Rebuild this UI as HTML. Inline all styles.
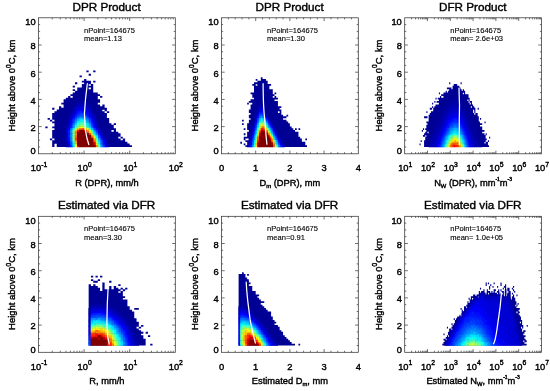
<!DOCTYPE html>
<html lang="en"><head><meta charset="utf-8"><title>DPR / DFR retrieval histograms</title>
<style>html,body{margin:0;padding:0;background:#fff}body{width:550px;height:391px;overflow:hidden}svg{display:block}text{font-family:'Liberation Sans', Arial, Helvetica, sans-serif}</style></head>
<body>
<svg width="550" height="391" viewBox="0 0 550 391" font-family="'Liberation Sans', Arial, Helvetica, sans-serif" fill="#000" stroke="#000" stroke-width="0.4" paint-order="stroke">
<defs><filter id="soft" x="-5%" y="-5%" width="110%" height="110%"><feGaussianBlur stdDeviation="0.4"/></filter></defs>
<g><g fill="none" stroke-width="2.10" filter="url(#soft)"><path stroke="#000094" stroke-width="1.80" d="M52.18 146.15h2.28M56.74 146.15h75.24M52.18 144.45h2.28M56.74 144.45h72.96M52.18 142.75h75.24M52.18 141.05h72.96M49.90 139.35h2.28M54.46 139.35h66.12M122.86 139.35h2.28M52.18 137.65h66.12M120.58 137.65h2.28M52.18 135.95h68.40M52.18 134.25h68.40M52.18 132.55h66.12M52.18 130.85h59.28M113.74 130.85h2.28M54.46 129.15h61.56M45.34 127.45h2.28M52.18 127.45h61.56M54.46 125.75h59.28M54.46 124.05h57.00M113.74 124.05h2.28M52.18 122.35h57.00M49.90 120.65h2.28M54.46 120.65h54.72M47.62 118.95h2.28M52.18 118.95h57.00M52.18 117.25h54.72M52.18 115.55h54.72M52.18 113.85h54.72M54.46 112.15h50.16M106.90 112.15h2.28M56.74 110.45h45.60M104.62 110.45h2.28M52.18 108.75h2.28M59.02 108.75h47.88M59.02 107.05h2.28M63.58 107.05h41.04M63.58 105.35h36.48M102.34 105.35h2.28M61.30 103.65h36.48M63.58 101.95h36.48M63.58 100.25h36.48M65.86 98.55h31.92M68.14 96.85h2.28M72.70 96.85h25.08M100.06 96.85h2.28M70.42 95.15h29.64M72.70 93.45h25.08M74.98 91.75h18.24M72.70 90.05h2.28M77.26 90.05h15.96M77.26 88.35h11.40M90.94 88.35h2.28M72.70 86.65h2.28M81.82 86.65h11.40M81.82 84.95h6.84M90.94 84.95h2.28M74.98 83.25h2.28M84.10 83.25h6.84M81.82 81.55h9.12M93.22 81.55h2.28M84.10 79.85h2.28M86.38 71.35h2.28M93.22 71.35h2.28M79.54 76.45h2.28M88.66 74.75h2.28"/><path stroke="#00009e" d="M65.66 146.15h2.68M65.66 144.45h2.68M106.70 142.75h2.68M104.42 137.65h2.68M63.38 130.85h2.68M99.86 129.15h2.68M65.66 125.75h2.68M97.58 125.75h2.68M97.58 124.05h2.68M95.30 118.95h2.68M67.94 117.25h2.68M93.02 113.85h2.68M70.22 112.15h2.68M90.74 110.45h2.68M90.74 108.75h2.68M72.50 107.05h2.68M88.46 105.35h2.68M74.78 103.65h2.68M86.18 103.65h2.68M77.06 101.95h2.68M83.90 101.95h2.68M79.34 100.25h4.96"/><path stroke="#0000a9" d="M106.70 146.15h2.68M106.70 144.45h2.68M65.66 142.75h2.68M104.42 139.35h2.68M102.14 134.25h2.68M99.86 130.85h2.68M65.66 127.45h2.68M97.58 127.45h2.68M95.30 120.65h2.68M67.94 118.95h2.68M93.02 115.55h2.68M70.22 113.85h2.68M90.74 112.15h2.68M72.50 108.75h2.68M88.46 107.05h2.68M74.78 105.35h2.68M86.18 105.35h2.68M77.06 103.65h2.68M83.90 103.65h2.68M79.34 101.95h4.96"/><path stroke="#0000b3" d="M65.66 141.05h2.68M104.42 141.05h2.68M102.14 135.95h2.68M65.66 129.15h2.68M67.94 122.35h2.68M95.30 122.35h2.68M67.94 120.65h2.68M93.02 117.25h2.68M70.22 115.55h2.68M90.74 113.85h2.68M72.50 110.45h2.68M88.46 108.75h2.68M74.78 107.05h2.68M83.90 105.35h2.68M79.34 103.65h4.96"/><path stroke="#0000be" d="M104.42 142.75h2.68M65.66 139.35h2.68M65.66 137.65h2.68M102.14 137.65h2.68M65.66 135.95h2.68M65.66 134.25h2.68M99.86 132.55h2.68M97.58 129.15h2.68M67.94 124.05h2.68M95.30 124.05h2.68M93.02 118.95h2.68M70.22 117.25h2.68M72.50 112.15h2.68M88.46 110.45h2.68M86.18 107.05h2.68M77.06 105.35h7.24"/><path stroke="#0000c8" d="M65.66 132.55h2.68M65.66 130.85h2.68M95.30 125.75h2.68M90.74 115.55h2.68M72.50 113.85h2.68M88.46 112.15h2.68M74.78 108.75h2.68M86.18 108.75h2.68M77.06 107.05h2.68M83.90 107.05h2.68"/><path stroke="#0000d2" d="M67.94 146.15h2.68M104.42 144.45h2.68M102.14 139.35h2.68M99.86 134.25h2.68M95.30 127.45h2.68M67.94 125.75h2.68M93.02 122.35h2.68M93.02 120.65h2.68M70.22 118.95h2.68M74.78 110.45h2.68M86.18 110.45h2.68M79.34 107.05h4.96"/><path stroke="#0000dd" d="M104.42 146.15h2.68M67.94 144.45h2.68M97.58 130.85h2.68M67.94 127.45h2.68M90.74 117.25h2.68M72.50 115.55h2.68M88.46 113.85h2.68M77.06 108.75h2.68M83.90 108.75h2.68"/><path stroke="#0000e7" d="M102.14 141.05h2.68M99.86 135.95h2.68M97.58 132.55h2.68M93.02 124.05h2.68M70.22 120.65h2.68M90.74 118.95h2.68M74.78 112.15h2.68M86.18 112.15h2.68M83.90 110.45h2.68M79.34 108.75h4.96"/><path stroke="#0000f2" d="M67.94 142.75h2.68M95.30 129.15h2.68M70.22 122.35h2.68M72.50 117.25h2.68M88.46 115.55h2.68M74.78 113.85h2.68M86.18 113.85h2.68M77.06 110.45h2.68M81.62 110.45h2.68"/><path stroke="#0000fc" d="M67.94 141.05h2.68M67.94 129.15h2.68M93.02 125.75h2.68M90.74 120.65h2.68M83.90 112.15h2.68M79.34 110.45h2.68"/><path stroke="#0007ff" d="M102.14 142.75h2.68M67.94 139.35h2.68M99.86 137.65h2.68M93.02 127.45h2.68M70.22 124.05h2.68M88.46 117.25h2.68M77.06 112.15h2.68M81.62 112.15h2.68"/><path stroke="#0012ff" d="M102.14 144.45h2.68M67.94 137.65h2.68M67.94 135.95h2.68M67.94 134.25h2.68M97.58 134.25h2.68M67.94 130.85h2.68M90.74 122.35h2.68M72.50 118.95h2.68M74.78 115.55h2.68M86.18 115.55h2.68"/><path stroke="#001cff" d="M67.94 132.55h2.68M70.22 125.75h2.68M77.06 113.85h2.68M79.34 112.15h2.68"/><path stroke="#0027ff" d="M70.22 146.15h2.68M99.86 139.35h2.68M95.30 130.85h2.68M70.22 127.45h2.68M90.74 124.05h2.68M88.46 118.95h2.68M83.90 113.85h2.68"/><path stroke="#0031ff" d="M102.14 146.15h2.68M72.50 120.65h2.68M74.78 117.25h2.68M83.90 115.55h2.68M81.62 113.85h2.68"/><path stroke="#003bff" d="M97.58 135.95h2.68M93.02 129.15h2.68M90.74 125.75h2.68M72.50 122.35h2.68M88.46 120.65h2.68M86.18 117.25h2.68M77.06 115.55h2.68M79.34 113.85h2.68"/><path stroke="#0046ff" d="M95.30 132.55h2.68"/><path stroke="#0050ff" d="M70.22 144.45h2.68M99.86 141.05h2.68M74.78 118.95h2.68M79.34 115.55h4.96"/><path stroke="#005bff" d="M70.22 142.75h2.68M99.86 142.75h2.68M97.58 137.65h2.68M90.74 127.45h2.68M72.50 124.05h2.68M88.46 122.35h2.68M86.18 118.95h2.68"/><path stroke="#0065ff" d="M77.06 117.25h2.68"/><path stroke="#0070ff" d="M70.22 141.05h2.68M70.22 129.15h2.68M83.90 117.25h2.68"/><path stroke="#007aff" d="M99.86 144.45h2.68M93.02 130.85h2.68M74.78 120.65h2.68M81.62 117.25h2.68"/><path stroke="#0084ff" d="M70.22 137.65h2.68M88.46 124.05h2.68M83.90 118.95h2.68M79.34 117.25h2.68"/><path stroke="#008fff" d="M70.22 139.35h2.68M70.22 134.25h2.68M95.30 134.25h2.68M72.50 127.45h2.68M72.50 125.75h2.68M86.18 120.65h2.68"/><path stroke="#0099ff" d="M99.86 146.15h2.68M70.22 135.95h2.68M70.22 132.55h2.68M70.22 130.85h2.68M77.06 118.95h2.68"/><path stroke="#00a4ff" d="M88.46 125.75h2.68M74.78 122.35h2.68M86.18 122.35h2.68"/><path stroke="#00aeff" d="M97.58 139.35h2.68M90.74 129.15h2.68M81.62 118.95h2.68"/><path stroke="#00c3ff" d="M74.78 124.05h2.68M77.06 120.65h2.68M83.90 120.65h2.68M79.34 118.95h2.68"/><path stroke="#00cdff" d="M97.58 141.05h2.68M95.30 135.95h2.68M93.02 132.55h2.68"/><path stroke="#00d8ff" d="M72.50 146.15h2.68M86.18 124.05h2.68"/><path stroke="#00e2ff" d="M88.46 127.45h2.68"/><path stroke="#00edff" d="M72.50 129.15h2.68M83.90 122.35h2.68M79.34 120.65h2.68"/><path stroke="#00f7ff" d="M72.50 144.45h2.68M86.18 125.75h2.68M81.62 120.65h2.68"/><path stroke="#02fffd" d="M97.58 142.75h2.68M95.30 137.65h2.68M77.06 122.35h2.68"/><path stroke="#17ffe8" d="M72.50 142.75h2.68M93.02 134.25h2.68M74.78 125.75h2.68"/><path stroke="#22ffdd" d="M90.74 130.85h2.68M88.46 129.15h2.68M83.90 124.05h2.68"/><path stroke="#2cffd3" d="M79.34 122.35h4.96"/><path stroke="#36ffc9" d="M72.50 141.05h2.68M86.18 127.45h2.68M77.06 124.05h2.68"/><path stroke="#41ffbe" d="M97.58 144.45h2.68M72.50 135.95h2.68M79.34 124.05h2.68"/><path stroke="#4bffb4" d="M74.78 127.45h2.68M83.90 125.75h2.68"/><path stroke="#60ff9f" d="M72.50 130.85h2.68M77.06 125.75h2.68M81.62 124.05h2.68"/><path stroke="#6aff95" d="M97.58 146.15h2.68M93.02 135.95h2.68M72.50 132.55h2.68"/><path stroke="#75ff8a" d="M72.50 139.35h2.68M95.30 139.35h2.68"/><path stroke="#7fff80" d="M95.30 141.05h2.68M72.50 134.25h2.68M90.74 132.55h2.68"/><path stroke="#8aff75" d="M72.50 137.65h2.68M79.34 125.75h2.68"/><path stroke="#94ff6b" d="M81.62 125.75h2.68"/><path stroke="#9fff60" d="M77.06 127.45h2.68M83.90 127.45h2.68"/><path stroke="#b3ff4c" d="M74.78 129.15h2.68"/><path stroke="#beff41" d="M95.30 142.75h2.68M90.74 134.25h2.68"/><path stroke="#d3ff2c" d="M88.46 130.85h2.68"/><path stroke="#ddff22" d="M86.18 129.15h2.68M81.62 127.45h2.68"/><path stroke="#f2ff0d" d="M93.02 137.65h2.68M79.34 127.45h2.68"/><path stroke="#fcff03" d="M74.78 146.15h2.68"/><path stroke="#ffed00" d="M95.30 144.45h2.68M88.46 132.55h2.68"/><path stroke="#ffe300" d="M74.78 144.45h2.68"/><path stroke="#ffce00" d="M83.90 129.15h2.68"/><path stroke="#ffc300" d="M77.06 129.15h2.68"/><path stroke="#ffb900" d="M74.78 130.85h2.68"/><path stroke="#ffae00" d="M74.78 142.75h2.68"/><path stroke="#ffa400" d="M93.02 139.35h2.68M90.74 135.95h2.68M74.78 134.25h2.68M86.18 130.85h2.68"/><path stroke="#ff8f00" d="M74.78 141.05h2.68"/><path stroke="#ff8500" d="M95.30 146.15h2.68"/><path stroke="#ff7a00" d="M93.02 141.05h2.68M79.34 129.15h2.68"/><path stroke="#ff7000" d="M74.78 132.55h2.68"/><path stroke="#ff6600" d="M74.78 135.95h2.68"/><path stroke="#ff5b00" d="M74.78 137.65h2.68"/><path stroke="#ff5100" d="M81.62 129.15h2.68"/><path stroke="#ff4600" d="M88.46 134.25h2.68M86.18 132.55h2.68"/><path stroke="#ff3c00" d="M74.78 139.35h2.68"/><path stroke="#ff3200" d="M90.74 137.65h2.68"/><path stroke="#ff1200" d="M83.90 130.85h2.68"/><path stroke="#ff0800" d="M93.02 142.75h2.68M77.06 130.85h2.68"/><path stroke="#dd0000" d="M93.02 144.45h2.68"/><path stroke="#c80000" d="M77.06 146.15h2.68"/><path stroke="#9f0000" d="M77.06 132.55h2.68"/><path stroke="#8a0000" d="M88.46 135.95h2.68"/><path stroke="#800000" d="M79.34 146.15h16.36M77.06 144.45h16.36M77.06 142.75h16.36M77.06 141.05h16.36M77.06 139.35h16.36M77.06 137.65h14.08M77.06 135.95h11.80M77.06 134.25h11.80M79.34 132.55h7.24M79.34 130.85h4.96"/></g><path d="M88.8 144.5 L87.0 138.5 L85.2 128.8 L84.4 113.5 L85.6 98.0 L86.6 90.0 L87.3 83.7" fill="none" stroke="#fff" stroke-width="1.25" stroke-linejoin="round" stroke-linecap="round"/><path d="M38.50 147.00h1.60M175.30 147.00h-1.60M38.50 140.20h1.60M175.30 140.20h-1.60M38.50 133.40h1.60M175.30 133.40h-1.60M38.50 126.60h3.20M175.30 126.60h-3.20M38.50 119.80h1.60M175.30 119.80h-1.60M38.50 113.00h1.60M175.30 113.00h-1.60M38.50 106.20h1.60M175.30 106.20h-1.60M38.50 99.40h3.20M175.30 99.40h-3.20M38.50 92.60h1.60M175.30 92.60h-1.60M38.50 85.80h1.60M175.30 85.80h-1.60M38.50 79.00h1.60M175.30 79.00h-1.60M38.50 72.20h3.20M175.30 72.20h-3.20M38.50 65.40h1.60M175.30 65.40h-1.60M38.50 58.60h1.60M175.30 58.60h-1.60M38.50 51.80h1.60M175.30 51.80h-1.60M38.50 45.00h3.20M175.30 45.00h-3.20M38.50 38.20h1.60M175.30 38.20h-1.60M38.50 31.40h1.60M175.30 31.40h-1.60M38.50 24.60h1.60M175.30 24.60h-1.60M52.23 153.80v-1.60M52.23 17.80v1.60M60.26 153.80v-1.60M60.26 17.80v1.60M65.95 153.80v-1.60M65.95 17.80v1.60M70.37 153.80v-1.60M70.37 17.80v1.60M73.98 153.80v-1.60M73.98 17.80v1.60M77.04 153.80v-1.60M77.04 17.80v1.60M79.68 153.80v-1.60M79.68 17.80v1.60M82.01 153.80v-1.60M82.01 17.80v1.60M84.10 153.80v-3.20M84.10 17.80v3.20M97.83 153.80v-1.60M97.83 17.80v1.60M105.86 153.80v-1.60M105.86 17.80v1.60M111.55 153.80v-1.60M111.55 17.80v1.60M115.97 153.80v-1.60M115.97 17.80v1.60M119.58 153.80v-1.60M119.58 17.80v1.60M122.64 153.80v-1.60M122.64 17.80v1.60M125.28 153.80v-1.60M125.28 17.80v1.60M127.61 153.80v-1.60M127.61 17.80v1.60M129.70 153.80v-3.20M129.70 17.80v3.20M143.43 153.80v-1.60M143.43 17.80v1.60M151.46 153.80v-1.60M151.46 17.80v1.60M157.15 153.80v-1.60M157.15 17.80v1.60M161.57 153.80v-1.60M161.57 17.80v1.60M165.18 153.80v-1.60M165.18 17.80v1.60M168.24 153.80v-1.60M168.24 17.80v1.60M170.88 153.80v-1.60M170.88 17.80v1.60M173.21 153.80v-1.60M173.21 17.80v1.60" stroke="#333" stroke-width="0.7" fill="none"/><rect x="38.50" y="17.80" width="136.80" height="136.00" fill="none" stroke="#333" stroke-width="0.75"/><text x="106.60" y="10.90" font-size="11.7" text-anchor="middle">DPR Product</text><text x="35.60" y="154.30" font-size="9.3" text-anchor="end">0</text><text x="35.60" y="130.90" font-size="9.3" text-anchor="end">2</text><text x="35.60" y="103.70" font-size="9.3" text-anchor="end">4</text><text x="35.60" y="76.50" font-size="9.3" text-anchor="end">6</text><text x="35.60" y="49.30" font-size="9.3" text-anchor="end">8</text><text x="35.60" y="25.00" font-size="9.3" text-anchor="end">10</text><text x="39.00" y="171.10" font-size="9.3" text-anchor="middle">10<tspan font-size="6.8" dy="-4.5">-1</tspan></text><text x="84.60" y="171.10" font-size="9.3" text-anchor="middle">10<tspan font-size="6.8" dy="-4.5">0</tspan></text><text x="130.20" y="171.10" font-size="9.3" text-anchor="middle">10<tspan font-size="6.8" dy="-4.5">1</tspan></text><text x="175.80" y="171.10" font-size="9.3" text-anchor="middle">10<tspan font-size="6.8" dy="-4.5">2</tspan></text><text x="106.90" y="185.70" text-anchor="middle" xml:space="preserve"><tspan font-size="9.3" dy="0.0">R (DPR), mm/h</tspan></text><text transform="translate(15.30 85.50) rotate(-90)" font-size="9.45" text-anchor="middle">Height above 0<tspan font-size="6.5" dy="-4.2">0</tspan><tspan dy="4.2">C, km</tspan></text><text x="84.00" y="32.70" font-size="7.55" stroke-width="0.12">nPoint=164675</text><text x="84.00" y="41.00" font-size="7.55" stroke-width="0.12" xml:space="preserve">mean=1.13</text></g>
<g><g fill="none" stroke-width="2.10" filter="url(#soft)"><path stroke="#000094" stroke-width="1.80" d="M245.44 146.15h61.56M243.73 144.45h1.71M247.15 144.45h58.14M240.31 142.75h1.71M247.15 142.75h58.14M245.44 141.05h56.43M243.73 139.35h1.71M248.86 139.35h53.01M305.29 139.35h1.71M243.73 137.65h56.43M247.15 135.95h51.30M243.73 134.25h1.71M247.15 134.25h51.30M247.15 132.55h51.30M248.86 130.85h46.17M243.73 129.15h1.71M247.15 129.15h46.17M295.03 129.15h1.71M298.45 129.15h1.71M247.15 127.45h44.46M247.15 125.75h42.75M242.02 124.05h1.71M247.15 124.05h42.75M248.86 122.35h39.33M242.02 120.65h1.71M248.86 120.65h37.62M250.57 118.95h32.49M248.86 117.25h37.62M248.86 115.55h34.20M286.48 115.55h1.71M250.57 113.85h30.78M248.86 112.15h29.07M279.64 112.15h1.71M248.86 110.45h32.49M250.57 108.75h29.07M250.57 107.05h30.78M250.57 105.35h27.36M247.15 103.65h1.71M252.28 103.65h25.65M248.86 101.95h29.07M250.57 100.25h23.94M253.99 98.55h23.94M252.28 96.85h20.52M274.51 96.85h1.71M252.28 95.15h22.23M250.57 93.45h22.23M274.51 93.45h1.71M253.99 91.75h18.81M253.99 90.05h18.81M253.99 88.35h15.39M253.99 86.65h15.39M252.28 84.95h3.42M257.41 84.95h13.68M253.99 83.25h13.68M257.41 81.55h10.26M255.70 79.85h1.71M260.83 79.85h5.13M260.83 78.15h1.71"/><path stroke="#00009e" d="M246.95 146.15h2.11M282.86 144.45h2.11M281.15 141.05h2.11M248.66 139.35h2.11M279.44 137.65h2.11M250.37 132.55h2.11M276.02 132.55h2.11M274.31 129.15h2.11M252.08 125.75h2.11M269.18 120.65h2.11M267.47 117.25h2.11M255.50 113.85h2.11M265.76 113.85h2.11M262.34 107.05h2.11M257.21 105.35h2.11M260.63 105.35h2.11M258.92 103.65h2.11"/><path stroke="#0000a9" d="M248.66 141.05h2.11M279.44 139.35h2.11M277.73 135.95h2.11M250.37 134.25h2.11M252.08 127.45h2.11M270.89 124.05h2.11M253.79 120.65h2.11M264.05 112.15h2.11M262.34 108.75h2.11M257.21 107.05h2.11M258.92 105.35h2.11"/><path stroke="#0000b3" d="M282.86 146.15h2.11M248.66 142.75h2.11M281.15 142.75h2.11M250.37 135.95h2.11M274.31 130.85h2.11M252.08 129.15h2.11M272.60 127.45h2.11M253.79 122.35h2.11M255.50 115.55h2.11M265.76 115.55h2.11M257.21 108.75h2.11M260.63 107.05h2.11"/><path stroke="#0000be" d="M248.66 144.45h2.11M281.15 144.45h2.11M279.44 141.05h2.11M277.73 137.65h2.11M276.02 134.25h2.11M269.18 122.35h2.11M267.47 118.95h2.11M255.50 117.25h2.11M257.21 110.45h2.11M262.34 110.45h2.11M258.92 107.05h2.11"/><path stroke="#0000c8" d="M248.66 146.15h2.11M250.37 137.65h2.11M252.08 130.85h2.11M272.60 129.15h2.11M270.89 125.75h2.11M253.79 124.05h2.11M264.05 113.85h2.11M257.21 112.15h2.11M260.63 108.75h2.11"/><path stroke="#0000d2" d="M277.73 139.35h2.11M276.02 135.95h2.11M252.08 132.55h2.11M274.31 132.55h2.11M253.79 125.75h2.11M255.50 118.95h2.11M265.76 117.25h2.11M258.92 108.75h2.11"/><path stroke="#0000dd" d="M281.15 146.15h2.11M279.44 142.75h2.11M250.37 141.05h2.11M250.37 139.35h2.11M267.47 120.65h2.11M257.21 113.85h2.11M262.34 112.15h2.11"/><path stroke="#0000e7" d="M250.37 142.75h2.11M252.08 134.25h2.11M269.18 124.05h2.11M255.50 120.65h2.11M264.05 115.55h2.11M258.92 110.45h3.82"/><path stroke="#0000f2" d="M272.60 130.85h2.11M253.79 127.45h2.11M270.89 127.45h2.11"/><path stroke="#0000fc" d="M250.37 144.45h2.11M279.44 144.45h2.11M277.73 141.05h2.11M276.02 137.65h2.11M274.31 134.25h2.11M253.79 129.15h2.11M255.50 122.35h2.11M265.76 118.95h2.11M257.21 115.55h2.11M258.92 112.15h3.82"/><path stroke="#0007ff" d="M252.08 135.95h2.11M262.34 113.85h2.11"/><path stroke="#0012ff" d="M250.37 146.15h2.11M252.08 137.65h2.11M269.18 125.75h2.11M267.47 122.35h2.11M257.21 117.25h2.11"/><path stroke="#001cff" d="M277.73 142.75h2.11M276.02 139.35h2.11M274.31 135.95h2.11M253.79 130.85h2.11M255.50 124.05h2.11M264.05 117.25h2.11M258.92 113.85h2.11"/><path stroke="#0027ff" d="M279.44 146.15h2.11M272.60 132.55h2.11M270.89 129.15h2.11M260.63 113.85h2.11"/><path stroke="#0031ff" d="M252.08 139.35h2.11M265.76 120.65h2.11M262.34 115.55h2.11"/><path stroke="#003bff" d="M252.08 141.05h2.11M253.79 132.55h2.11M267.47 124.05h2.11M257.21 118.95h2.11"/><path stroke="#0046ff" d="M255.50 125.75h2.11"/><path stroke="#0050ff" d="M277.73 144.45h2.11M272.60 134.25h2.11M270.89 130.85h2.11M257.21 120.65h2.11M258.92 115.55h2.11"/><path stroke="#005bff" d="M252.08 144.45h2.11M252.08 142.75h2.11M276.02 141.05h2.11M253.79 134.25h2.11M255.50 127.45h2.11M269.18 127.45h2.11M264.05 118.95h2.11M260.63 115.55h2.11"/><path stroke="#0065ff" d="M274.31 137.65h2.11M262.34 117.25h2.11"/><path stroke="#0070ff" d="M258.92 117.25h2.11"/><path stroke="#007aff" d="M277.73 146.15h2.11M253.79 135.95h2.11M255.50 129.15h2.11M257.21 122.35h2.11M265.76 122.35h2.11"/><path stroke="#0084ff" d="M267.47 125.75h2.11"/><path stroke="#008fff" d="M252.08 146.15h2.11M270.89 132.55h2.11"/><path stroke="#0099ff" d="M274.31 139.35h2.11M272.60 135.95h2.11M269.18 129.15h2.11M258.92 118.95h2.11M260.63 117.25h2.11"/><path stroke="#00a4ff" d="M253.79 137.65h2.11M257.21 124.05h2.11M264.05 120.65h2.11"/><path stroke="#00aeff" d="M276.02 142.75h2.11M253.79 139.35h2.11M255.50 130.85h2.11M262.34 118.95h2.11"/><path stroke="#00c3ff" d="M267.47 127.45h2.11M265.76 124.05h2.11"/><path stroke="#00cdff" d="M276.02 144.45h2.11M255.50 132.55h2.11M258.92 120.65h2.11"/><path stroke="#00d8ff" d="M262.34 120.65h2.11"/><path stroke="#00e2ff" d="M253.79 141.05h2.11M269.18 130.85h2.11M257.21 125.75h2.11"/><path stroke="#00edff" d="M272.60 137.65h2.11M270.89 134.25h2.11M264.05 122.35h2.11M260.63 118.95h2.11"/><path stroke="#02fffd" d="M253.79 142.75h2.11M274.31 141.05h2.11M255.50 134.25h2.11M257.21 127.45h2.11"/><path stroke="#0dfff2" d="M274.31 142.75h2.11M260.63 120.65h2.11"/><path stroke="#17ffe8" d="M258.92 122.35h2.11"/><path stroke="#22ffdd" d="M270.89 135.95h2.11"/><path stroke="#2cffd3" d="M276.02 146.15h2.11M253.79 144.45h2.11M255.50 135.95h2.11M265.76 125.75h2.11"/><path stroke="#36ffc9" d="M253.79 146.15h2.11M272.60 139.35h2.11"/><path stroke="#41ffbe" d="M269.18 132.55h2.11"/><path stroke="#4bffb4" d="M257.21 129.15h2.11M267.47 129.15h2.11"/><path stroke="#56ffa9" d="M262.34 122.35h2.11"/><path stroke="#60ff9f" d="M260.63 122.35h2.11"/><path stroke="#6aff95" d="M274.31 144.45h2.11M255.50 137.65h2.11M265.76 127.45h2.11M258.92 125.75h2.11M258.92 124.05h2.11M264.05 124.05h2.11"/><path stroke="#7fff80" d="M257.21 130.85h2.11"/><path stroke="#94ff6b" d="M255.50 139.35h2.11"/><path stroke="#9fff60" d="M255.50 141.05h2.11M267.47 130.85h2.11M262.34 124.05h2.11"/><path stroke="#b3ff4c" d="M274.31 146.15h2.11M264.05 125.75h2.11M260.63 124.05h2.11"/><path stroke="#beff41" d="M272.60 141.05h2.11M269.18 134.25h2.11M257.21 132.55h2.11"/><path stroke="#c8ff37" d="M258.92 127.45h2.11"/><path stroke="#d3ff2c" d="M255.50 142.75h2.11M270.89 137.65h2.11"/><path stroke="#e7ff18" d="M258.92 129.15h2.11"/><path stroke="#f2ff0d" d="M265.76 129.15h2.11"/><path stroke="#fff700" d="M257.21 134.25h2.11M267.47 132.55h2.11M260.63 125.75h2.11"/><path stroke="#ffe300" d="M255.50 146.15h2.11M269.18 135.95h2.11M262.34 125.75h2.11"/><path stroke="#ffd800" d="M272.60 142.75h2.11"/><path stroke="#ffc300" d="M255.50 144.45h2.11M257.21 135.95h2.11"/><path stroke="#ffb900" d="M260.63 127.45h2.11M264.05 127.45h2.11"/><path stroke="#ffa400" d="M270.89 139.35h2.11"/><path stroke="#ff9a00" d="M258.92 130.85h2.11"/><path stroke="#ff8f00" d="M270.89 141.05h2.11M265.76 130.85h2.11M264.05 129.15h2.11"/><path stroke="#ff7a00" d="M267.47 134.25h2.11"/><path stroke="#ff7000" d="M272.60 144.45h2.11M262.34 127.45h2.11"/><path stroke="#ff5b00" d="M257.21 139.35h2.11M257.21 137.65h2.11"/><path stroke="#ff5100" d="M272.60 146.15h2.11"/><path stroke="#ff3c00" d="M269.18 137.65h2.11M258.92 132.55h2.11"/><path stroke="#ff3200" d="M262.34 129.15h2.11"/><path stroke="#ff2700" d="M257.21 141.05h2.11"/><path stroke="#ff1d00" d="M260.63 129.15h2.11"/><path stroke="#ff1200" d="M264.05 130.85h2.11"/><path stroke="#ff0800" d="M265.76 132.55h2.11"/><path stroke="#dd0000" d="M270.89 142.75h2.11M269.18 139.35h2.11"/><path stroke="#d30000" d="M257.21 142.75h2.11M262.34 130.85h2.11"/><path stroke="#c80000" d="M267.47 135.95h2.11M258.92 134.25h2.11M260.63 130.85h2.11"/><path stroke="#b40000" d="M257.21 144.45h2.11M258.92 135.95h2.11"/><path stroke="#a90000" d="M257.21 146.15h2.11M270.89 144.45h2.11"/><path stroke="#940000" d="M260.63 132.55h2.11"/><path stroke="#8a0000" d="M269.18 141.05h2.11M267.47 137.65h2.11"/><path stroke="#800000" d="M258.92 146.15h14.08M258.92 144.45h12.37M258.92 142.75h12.37M258.92 141.05h10.66M258.92 139.35h10.66M258.92 137.65h8.95M260.63 135.95h7.24M260.63 134.25h7.24M262.34 132.55h3.82"/></g><path d="M266.9 144.2 L266.0 135.0 L265.0 123.0 L264.0 112.0 L263.5 103.8 L263.2 92.0 L263.1 83.7" fill="none" stroke="#fff" stroke-width="1.25" stroke-linejoin="round" stroke-linecap="round"/><path d="M221.50 147.00h1.60M358.30 147.00h-1.60M221.50 140.20h1.60M358.30 140.20h-1.60M221.50 133.40h1.60M358.30 133.40h-1.60M221.50 126.60h3.20M358.30 126.60h-3.20M221.50 119.80h1.60M358.30 119.80h-1.60M221.50 113.00h1.60M358.30 113.00h-1.60M221.50 106.20h1.60M358.30 106.20h-1.60M221.50 99.40h3.20M358.30 99.40h-3.20M221.50 92.60h1.60M358.30 92.60h-1.60M221.50 85.80h1.60M358.30 85.80h-1.60M221.50 79.00h1.60M358.30 79.00h-1.60M221.50 72.20h3.20M358.30 72.20h-3.20M221.50 65.40h1.60M358.30 65.40h-1.60M221.50 58.60h1.60M358.30 58.60h-1.60M221.50 51.80h1.60M358.30 51.80h-1.60M221.50 45.00h3.20M358.30 45.00h-3.20M221.50 38.20h1.60M358.30 38.20h-1.60M221.50 31.40h1.60M358.30 31.40h-1.60M221.50 24.60h1.60M358.30 24.60h-1.60M228.34 153.80v-1.60M228.34 17.80v1.60M235.18 153.80v-1.60M235.18 17.80v1.60M242.02 153.80v-1.60M242.02 17.80v1.60M248.86 153.80v-1.60M248.86 17.80v1.60M255.70 153.80v-3.20M255.70 17.80v3.20M262.54 153.80v-1.60M262.54 17.80v1.60M269.38 153.80v-1.60M269.38 17.80v1.60M276.22 153.80v-1.60M276.22 17.80v1.60M283.06 153.80v-1.60M283.06 17.80v1.60M289.90 153.80v-3.20M289.90 17.80v3.20M296.74 153.80v-1.60M296.74 17.80v1.60M303.58 153.80v-1.60M303.58 17.80v1.60M310.42 153.80v-1.60M310.42 17.80v1.60M317.26 153.80v-1.60M317.26 17.80v1.60M324.10 153.80v-3.20M324.10 17.80v3.20M330.94 153.80v-1.60M330.94 17.80v1.60M337.78 153.80v-1.60M337.78 17.80v1.60M344.62 153.80v-1.60M344.62 17.80v1.60M351.46 153.80v-1.60M351.46 17.80v1.60" stroke="#333" stroke-width="0.7" fill="none"/><rect x="221.50" y="17.80" width="136.80" height="136.00" fill="none" stroke="#333" stroke-width="0.75"/><text x="289.60" y="10.90" font-size="11.7" text-anchor="middle">DPR Product</text><text x="218.60" y="154.30" font-size="9.3" text-anchor="end">0</text><text x="218.60" y="130.90" font-size="9.3" text-anchor="end">2</text><text x="218.60" y="103.70" font-size="9.3" text-anchor="end">4</text><text x="218.60" y="76.50" font-size="9.3" text-anchor="end">6</text><text x="218.60" y="49.30" font-size="9.3" text-anchor="end">8</text><text x="218.60" y="25.00" font-size="9.3" text-anchor="end">10</text><text x="221.50" y="171.10" font-size="9.3" text-anchor="middle">0</text><text x="255.70" y="171.10" font-size="9.3" text-anchor="middle">1</text><text x="289.90" y="171.10" font-size="9.3" text-anchor="middle">2</text><text x="324.10" y="171.10" font-size="9.3" text-anchor="middle">3</text><text x="358.30" y="171.10" font-size="9.3" text-anchor="middle">4</text><text x="289.90" y="185.70" text-anchor="middle" xml:space="preserve"><tspan font-size="9.3" dy="0.0">D</tspan><tspan font-size="5.8" dy="2.0">m</tspan><tspan font-size="9.3" dy="-2.0"> (DPR), mm</tspan></text><text transform="translate(198.30 85.50) rotate(-90)" font-size="9.45" text-anchor="middle">Height above 0<tspan font-size="6.5" dy="-4.2">0</tspan><tspan dy="4.2">C, km</tspan></text><text x="267.00" y="32.70" font-size="7.55" stroke-width="0.12">nPoint=164675</text><text x="267.00" y="41.00" font-size="7.55" stroke-width="0.12" xml:space="preserve">mean=1.30</text></g>
<g><g fill="none" stroke-width="2.10" filter="url(#soft)"><path stroke="#000094" stroke-width="1.80" d="M424.08 146.15h64.98M419.52 144.45h1.14M424.08 144.45h63.84M424.08 142.75h60.42M485.64 142.75h2.28M420.66 141.05h1.14M424.08 141.05h61.56M487.92 141.05h1.14M425.22 139.35h61.56M425.22 137.65h60.42M489.06 137.65h1.14M422.94 135.95h2.28M426.36 135.95h59.28M424.08 134.25h60.42M485.64 134.25h1.14M425.22 132.55h2.28M428.64 132.55h53.58M421.80 130.85h1.14M426.36 130.85h58.14M422.94 129.15h1.14M425.22 129.15h57.00M426.36 127.45h55.86M426.36 125.75h53.58M427.50 124.05h54.72M426.36 122.35h53.58M484.50 122.35h1.14M428.64 120.65h50.16M428.64 118.95h50.16M479.94 118.95h1.14M424.08 117.25h3.42M428.64 117.25h50.16M428.64 115.55h49.02M429.78 113.85h44.46M475.38 113.85h2.28M426.36 112.15h1.14M430.92 112.15h42.18M474.24 112.15h1.14M433.20 110.45h39.90M474.24 110.45h1.14M429.78 108.75h2.28M433.20 108.75h42.18M477.66 108.75h1.14M432.06 107.05h1.14M434.34 107.05h36.48M471.96 107.05h2.28M435.48 105.35h37.62M432.06 103.65h1.14M438.90 103.65h30.78M470.82 103.65h1.14M434.34 101.95h1.14M436.62 101.95h31.92M469.68 101.95h2.28M438.90 100.25h28.50M468.54 100.25h1.14M435.48 98.55h1.14M437.76 98.55h31.92M440.04 96.85h1.14M443.46 96.85h25.08M441.18 95.15h27.36M438.90 93.45h1.14M443.46 93.45h19.38M463.98 93.45h1.14M445.74 91.75h1.14M448.02 91.75h17.10M449.16 90.05h12.54M462.84 90.05h1.14M446.88 88.35h4.56M452.58 88.35h7.98M452.58 86.65h6.84M453.72 84.95h3.42M449.16 83.25h1.14M460.56 83.25h1.14"/><path stroke="#00009e" d="M428.44 146.15h1.54M479.74 146.15h2.68M428.44 144.45h1.54M478.60 144.45h2.68M429.58 142.75h1.54M477.46 142.75h2.68M429.58 141.05h1.54M476.32 141.05h3.82M429.58 139.35h2.68M475.18 139.35h3.82M430.72 137.65h1.54M475.18 137.65h2.68M430.72 135.95h2.68M474.04 135.95h3.82M431.86 134.25h2.68M474.04 134.25h2.68M431.86 132.55h3.82M472.90 132.55h2.68M433.00 130.85h3.82M471.76 130.85h3.82M433.00 129.15h3.82M470.62 129.15h3.82M434.14 127.45h3.82M470.62 127.45h2.68M435.28 125.75h2.68M469.48 125.75h3.82M436.42 124.05h2.68M469.48 124.05h2.68M436.42 122.35h3.82M468.34 122.35h2.68M437.56 120.65h3.82M468.34 120.65h2.68M438.70 118.95h2.68M467.20 118.95h2.68M438.70 117.25h3.82M466.06 117.25h2.68M439.84 115.55h2.68M466.06 115.55h2.68M440.98 113.85h2.68M464.92 113.85h2.68M442.12 112.15h2.68M464.92 112.15h2.68M442.12 110.45h3.82M463.78 110.45h2.68M443.26 108.75h3.82M462.64 108.75h2.68M444.40 107.05h3.82M461.50 107.05h3.82M445.54 105.35h3.82M460.36 105.35h3.82M446.68 103.65h4.96M458.08 103.65h4.96M447.82 101.95h14.08M450.10 100.25h10.66M451.24 98.55h7.24M454.66 96.85h1.54"/><path stroke="#0000a9" d="M429.58 146.15h1.54M476.32 146.15h3.82M429.58 144.45h2.68M476.32 144.45h2.68M430.72 142.75h1.54M475.18 142.75h2.68M430.72 141.05h2.68M474.04 141.05h2.68M431.86 139.35h1.54M474.04 139.35h1.54M431.86 137.65h2.68M472.90 137.65h2.68M433.00 135.95h3.82M471.76 135.95h2.68M434.14 134.25h2.68M471.76 134.25h2.68M435.28 132.55h2.68M470.62 132.55h2.68M436.42 130.85h1.54M470.62 130.85h1.54M436.42 129.15h2.68M469.48 129.15h1.54M437.56 127.45h1.54M469.48 127.45h1.54M437.56 125.75h2.68M468.34 125.75h1.54M438.70 124.05h2.68M468.34 124.05h1.54M439.84 122.35h1.54M467.20 122.35h1.54M440.98 120.65h1.54M466.06 120.65h2.68M440.98 118.95h2.68M466.06 118.95h1.54M442.12 117.25h2.68M464.92 117.25h1.54M442.12 115.55h2.68M463.78 115.55h2.68M443.26 113.85h2.68M463.78 113.85h1.54M444.40 112.15h2.68M462.64 112.15h2.68M445.54 110.45h2.68M461.50 110.45h2.68M446.68 108.75h2.68M460.36 108.75h2.68M447.82 107.05h2.68M459.22 107.05h2.68M448.96 105.35h4.96M455.80 105.35h4.96M451.24 103.65h7.24"/><path stroke="#0000b3" d="M430.72 146.15h1.54M474.04 146.15h2.68M431.86 144.45h1.54M474.04 144.45h2.68M431.86 142.75h1.54M474.04 142.75h1.54M433.00 141.05h1.54M472.90 141.05h1.54M433.00 139.35h2.68M471.76 139.35h2.68M434.14 137.65h1.54M471.76 137.65h1.54M470.62 135.95h1.54M436.42 134.25h1.54M470.62 134.25h1.54M437.56 132.55h1.54M469.48 132.55h1.54M437.56 130.85h1.54M469.48 130.85h1.54M438.70 129.15h1.54M468.34 129.15h1.54M438.70 127.45h2.68M467.20 127.45h2.68M439.84 125.75h2.68M467.20 125.75h1.54M440.98 124.05h1.54M466.06 124.05h2.68M440.98 122.35h2.68M466.06 122.35h1.54M442.12 120.65h1.54M464.92 120.65h1.54M443.26 118.95h1.54M463.78 118.95h2.68M444.40 117.25h1.54M463.78 117.25h1.54M444.40 115.55h2.68M462.64 115.55h1.54M445.54 113.85h1.54M461.50 113.85h2.68M446.68 112.15h2.68M461.50 112.15h1.54M447.82 110.45h1.54M459.22 110.45h2.68M448.96 108.75h3.82M458.08 108.75h2.68M450.10 107.05h9.52M453.52 105.35h2.68"/><path stroke="#0000be" d="M431.86 146.15h2.68M472.90 146.15h1.54M433.00 144.45h2.68M472.90 144.45h1.54M433.00 142.75h2.68M472.90 142.75h1.54M434.14 141.05h1.54M471.76 141.05h1.54M435.28 139.35h1.54M435.28 137.65h2.68M470.62 137.65h1.54M436.42 135.95h1.54M437.56 134.25h1.54M469.48 134.25h1.54M438.70 132.55h1.54M468.34 132.55h1.54M438.70 130.85h1.54M468.34 130.85h1.54M439.84 129.15h1.54M467.20 129.15h1.54M466.06 125.75h1.54M442.12 124.05h1.54M443.26 122.35h1.54M464.92 122.35h1.54M443.26 120.65h1.54M463.78 120.65h1.54M444.40 118.95h1.54M445.54 117.25h1.54M462.64 117.25h1.54M446.68 115.55h1.54M461.50 115.55h1.54M446.68 113.85h3.82M460.36 113.85h1.54M448.96 112.15h1.54M459.22 112.15h2.68M448.96 110.45h3.82M458.08 110.45h1.54M452.38 108.75h6.10"/><path stroke="#0000c8" d="M434.14 146.15h1.54M471.76 146.15h1.54M471.76 144.45h1.54M435.28 142.75h1.54M471.76 142.75h1.54M435.28 141.05h1.54M470.62 141.05h1.54M436.42 139.35h1.54M470.62 139.35h1.54M437.56 137.65h1.54M469.48 137.65h1.54M437.56 135.95h1.54M469.48 135.95h1.54M438.70 134.25h1.54M468.34 134.25h1.54M439.84 132.55h1.54M439.84 130.85h1.54M467.20 130.85h1.54M440.98 129.15h1.54M440.98 127.45h1.54M466.06 127.45h1.54M442.12 125.75h1.54M443.26 124.05h1.54M464.92 124.05h1.54M463.78 122.35h1.54M444.40 120.65h1.54M462.64 120.65h1.54M445.54 118.95h1.54M462.64 118.95h1.54M446.68 117.25h1.54M461.50 117.25h1.54M447.82 115.55h1.54M460.36 115.55h1.54M459.22 113.85h1.54M450.10 112.15h2.68M455.80 112.15h3.82M452.38 110.45h6.10"/><path stroke="#0000d2" d="M435.28 144.45h1.54M470.62 144.45h1.54M436.42 142.75h1.54M470.62 142.75h1.54M436.42 141.05h1.54M437.56 139.35h1.54M469.48 139.35h1.54M468.34 137.65h1.54M438.70 135.95h1.54M468.34 135.95h1.54M439.84 134.25h1.54M467.20 134.25h1.54M467.20 132.55h1.54M440.98 130.85h1.54M442.12 129.15h1.54M466.06 129.15h1.54M442.12 127.45h1.54M443.26 125.75h1.54M464.92 125.75h1.54M444.40 124.05h1.54M463.78 124.05h1.54M444.40 122.35h1.54M445.54 120.65h1.54M446.68 118.95h1.54M461.50 118.95h1.54M447.82 117.25h1.54M460.36 117.25h1.54M448.96 115.55h1.54M459.22 115.55h1.54M450.10 113.85h4.96M456.94 113.85h2.68M452.38 112.15h3.82"/><path stroke="#0000dd" d="M435.28 146.15h1.54M470.62 146.15h1.54M436.42 144.45h1.54M469.48 142.75h1.54M437.56 141.05h1.54M469.48 141.05h1.54M468.34 139.35h1.54M438.70 137.65h1.54M439.84 135.95h1.54M467.20 135.95h1.54M440.98 132.55h1.54M466.06 132.55h1.54M442.12 130.85h1.54M466.06 130.85h1.54M464.92 129.15h1.54M443.26 127.45h1.54M464.92 127.45h1.54M444.40 125.75h1.54M463.78 125.75h1.54M462.64 124.05h1.54M445.54 122.35h1.54M462.64 122.35h1.54M446.68 120.65h1.54M461.50 120.65h1.54M447.82 118.95h1.54M460.36 118.95h1.54M448.96 117.25h1.54M459.22 117.25h1.54M450.10 115.55h2.68M458.08 115.55h1.54M454.66 113.85h2.68"/><path stroke="#0000e7" d="M436.42 146.15h1.54M469.48 144.45h1.54M437.56 142.75h1.54M468.34 141.05h1.54M438.70 139.35h1.54M439.84 137.65h1.54M440.98 134.25h1.54M466.06 134.25h1.54M464.92 130.85h1.54M463.78 127.45h1.54M462.64 125.75h1.54M445.54 124.05h1.54M446.68 122.35h1.54M461.50 122.35h1.54M448.96 118.95h1.54M459.22 118.95h1.54M450.10 117.25h2.68M458.08 117.25h1.54M452.38 115.55h2.68M455.80 115.55h2.68"/><path stroke="#0000f2" d="M469.48 146.15h1.54M437.56 144.45h1.54M438.70 141.05h1.54M439.84 139.35h1.54M467.20 139.35h1.54M467.20 137.65h1.54M442.12 132.55h1.54M464.92 132.55h1.54M443.26 129.15h1.54M444.40 127.45h1.54M445.54 125.75h1.54M460.36 122.35h1.54M447.82 120.65h1.54M460.36 120.65h1.54M450.10 118.95h1.54M456.94 118.95h2.68M452.38 117.25h1.54M456.94 117.25h1.54M454.66 115.55h1.54"/><path stroke="#0000fc" d="M437.56 146.15h1.54M438.70 142.75h1.54M468.34 142.75h1.54M440.98 135.95h1.54M466.06 135.95h1.54M442.12 134.25h1.54M443.26 130.85h1.54M444.40 129.15h1.54M463.78 129.15h1.54M462.64 127.45h1.54M446.68 124.05h1.54M461.50 124.05h1.54M447.82 122.35h1.54M448.96 120.65h1.54M459.22 120.65h1.54M451.24 118.95h1.54M453.52 117.25h3.82"/><path stroke="#0007ff" d="M468.34 146.15h1.54M438.70 144.45h1.54M468.34 144.45h1.54M439.84 141.05h1.54M467.20 141.05h1.54M440.98 137.65h1.54M442.12 135.95h1.54M464.92 134.25h1.54M443.26 132.55h1.54M444.40 130.85h1.54M463.78 130.85h1.54M445.54 127.45h1.54M446.68 125.75h1.54M461.50 125.75h1.54M447.82 124.05h1.54M460.36 124.05h1.54M448.96 122.35h2.68M450.10 120.65h2.68M458.08 120.65h1.54M452.38 118.95h2.68M455.80 118.95h1.54"/><path stroke="#0012ff" d="M438.70 146.15h1.54M439.84 142.75h1.54M440.98 139.35h1.54M466.06 137.65h1.54M443.26 134.25h1.54M444.40 132.55h1.54M445.54 129.15h1.54M462.64 129.15h1.54M461.50 127.45h1.54M447.82 125.75h1.54M459.22 124.05h1.54M459.22 122.35h1.54M452.38 120.65h1.54M454.66 118.95h1.54"/><path stroke="#001cff" d="M439.84 144.45h1.54M467.20 142.75h1.54M466.06 139.35h1.54M464.92 135.95h1.54M463.78 132.55h1.54M445.54 130.85h1.54M462.64 130.85h1.54M446.68 127.45h2.68M460.36 125.75h1.54M448.96 124.05h1.54M458.08 122.35h1.54M453.52 120.65h1.54M456.94 120.65h1.54"/><path stroke="#0027ff" d="M467.20 144.45h1.54M440.98 141.05h1.54M466.06 141.05h1.54M442.12 137.65h1.54M464.92 137.65h1.54M463.78 134.25h1.54M446.68 129.15h1.54M461.50 129.15h1.54M448.96 125.75h1.54M459.22 125.75h1.54M450.10 124.05h1.54M451.24 122.35h2.68M455.80 122.35h2.68M454.66 120.65h2.68"/><path stroke="#0031ff" d="M439.84 146.15h1.54M467.20 146.15h1.54M442.12 139.35h1.54M443.26 137.65h1.54M443.26 135.95h1.54M445.54 132.55h1.54M462.64 132.55h1.54M460.36 127.45h1.54M451.24 124.05h1.54M458.08 124.05h1.54M453.52 122.35h2.68"/><path stroke="#003bff" d="M440.98 144.45h1.54M440.98 142.75h1.54M444.40 135.95h1.54M463.78 135.95h1.54M444.40 134.25h1.54M446.68 130.85h1.54M461.50 130.85h1.54M448.96 127.45h1.54M450.10 125.75h1.54M452.38 124.05h1.54M454.66 124.05h1.54"/><path stroke="#0046ff" d="M466.06 142.75h1.54M442.12 141.05h1.54M464.92 139.35h1.54M445.54 134.25h1.54M447.82 129.15h1.54M460.36 129.15h1.54M459.22 127.45h1.54M458.08 125.75h1.54M455.80 124.05h1.54"/><path stroke="#0050ff" d="M466.06 144.45h1.54M463.78 137.65h1.54M462.64 134.25h1.54M446.68 132.55h1.54M447.82 130.85h1.54M451.24 125.75h2.68M453.52 124.05h1.54M456.94 124.05h1.54"/><path stroke="#005bff" d="M440.98 146.15h1.54M466.06 146.15h1.54M464.92 141.05h1.54M443.26 139.35h1.54M461.50 132.55h1.54M460.36 130.85h1.54M448.96 129.15h1.54M458.08 127.45h1.54M453.52 125.75h1.54M456.94 125.75h1.54"/><path stroke="#0065ff" d="M442.12 142.75h1.54M464.92 142.75h1.54M462.64 135.95h1.54M459.22 129.15h1.54M450.10 127.45h2.68M455.80 125.75h1.54"/><path stroke="#0070ff" d="M464.92 144.45h1.54M443.26 141.05h1.54M463.78 139.35h1.54M444.40 137.65h1.54M445.54 135.95h1.54M446.68 134.25h1.54M461.50 134.25h1.54M447.82 132.55h1.54M460.36 132.55h1.54M448.96 130.85h1.54M452.38 127.45h1.54M456.94 127.45h1.54"/><path stroke="#007aff" d="M442.12 144.45h1.54M443.26 142.75h1.54M444.40 139.35h1.54M450.10 129.15h1.54M458.08 129.15h1.54M455.80 127.45h1.54M454.66 125.75h1.54"/><path stroke="#0084ff" d="M442.12 146.15h1.54M462.64 137.65h1.54M448.96 132.55h1.54M459.22 130.85h1.54M451.24 129.15h1.54M453.52 127.45h2.68"/><path stroke="#008fff" d="M464.92 146.15h1.54M446.68 135.95h1.54M447.82 134.25h1.54"/><path stroke="#0099ff" d="M444.40 141.05h1.54M463.78 141.05h1.54M461.50 135.95h1.54M450.10 130.85h1.54M458.08 130.85h1.54"/><path stroke="#00a4ff" d="M443.26 146.15h1.54M443.26 144.45h1.54M444.40 142.75h1.54M463.78 142.75h1.54M445.54 137.65h1.54M460.36 134.25h1.54M459.22 132.55h1.54M452.38 130.85h1.54M452.38 129.15h2.68M455.80 129.15h2.68"/><path stroke="#00aeff" d="M445.54 139.35h1.54M462.64 139.35h1.54M461.50 137.65h1.54M448.96 134.25h1.54M450.10 132.55h1.54M456.94 130.85h1.54M454.66 129.15h1.54"/><path stroke="#00b8ff" d="M463.78 144.45h1.54M446.68 137.65h1.54M459.22 134.25h1.54M451.24 130.85h1.54"/><path stroke="#00c3ff" d="M447.82 135.95h1.54M453.52 130.85h1.54M455.80 130.85h1.54"/><path stroke="#00cdff" d="M463.78 146.15h1.54M444.40 144.45h1.54M445.54 141.05h1.54M446.68 139.35h1.54M461.50 139.35h1.54M460.36 135.95h1.54M451.24 132.55h1.54M456.94 132.55h2.68M454.66 130.85h1.54"/><path stroke="#00d8ff" d="M462.64 142.75h1.54M462.64 141.05h1.54M450.10 134.25h1.54M452.38 132.55h1.54M455.80 132.55h1.54"/><path stroke="#00e2ff" d="M445.54 142.75h1.54M461.50 141.05h1.54M459.22 135.95h1.54M458.08 134.25h1.54M454.66 132.55h1.54"/><path stroke="#00edff" d="M447.82 137.65h1.54M460.36 137.65h1.54M448.96 135.95h1.54M456.94 134.25h1.54M453.52 132.55h1.54"/><path stroke="#00f7ff" d="M444.40 146.15h1.54M451.24 134.25h1.54"/><path stroke="#02fffd" d="M450.10 135.95h1.54"/><path stroke="#0dfff2" d="M446.68 141.05h1.54M458.08 135.95h1.54M455.80 134.25h1.54"/><path stroke="#17ffe8" d="M445.54 144.45h1.54M462.64 144.45h1.54M447.82 139.35h1.54"/><path stroke="#22ffdd" d="M452.38 134.25h3.82"/><path stroke="#2cffd3" d="M446.68 142.75h1.54M461.50 142.75h1.54M460.36 139.35h1.54M448.96 137.65h1.54M459.22 137.65h1.54"/><path stroke="#36ffc9" d="M462.64 146.15h1.54M448.96 139.35h1.54"/><path stroke="#41ffbe" d="M451.24 135.95h1.54M456.94 135.95h1.54"/><path stroke="#4bffb4" d="M447.82 141.05h1.54"/><path stroke="#56ffa9" d="M451.24 137.65h1.54M458.08 137.65h1.54M452.38 135.95h1.54"/><path stroke="#60ff9f" d="M445.54 146.15h1.54"/><path stroke="#6aff95" d="M461.50 144.45h1.54M460.36 142.75h1.54M459.22 139.35h1.54M450.10 137.65h1.54M453.52 135.95h1.54M455.80 135.95h1.54"/><path stroke="#75ff8a" d="M446.68 146.15h1.54M447.82 142.75h1.54M448.96 141.05h1.54M459.22 141.05h1.54M454.66 135.95h1.54"/><path stroke="#7fff80" d="M446.68 144.45h1.54M460.36 141.05h1.54"/><path stroke="#8aff75" d="M461.50 146.15h1.54M450.10 139.35h1.54"/><path stroke="#94ff6b" d="M458.08 139.35h1.54M452.38 137.65h1.54M456.94 137.65h1.54"/><path stroke="#9fff60" d="M453.52 137.65h1.54M455.80 137.65h1.54"/><path stroke="#a9ff56" d="M447.82 144.45h1.54M450.10 141.05h1.54"/><path stroke="#b3ff4c" d="M451.24 139.35h1.54M454.66 137.65h1.54"/><path stroke="#beff41" d="M459.22 142.75h1.54"/><path stroke="#c8ff37" d="M460.36 144.45h1.54M448.96 142.75h1.54M452.38 139.35h1.54M456.94 139.35h1.54"/><path stroke="#d3ff2c" d="M447.82 146.15h1.54"/><path stroke="#ddff22" d="M458.08 141.05h1.54"/><path stroke="#e7ff18" d="M448.96 144.45h1.54M452.38 141.05h1.54M455.80 141.05h1.54M455.80 139.35h1.54"/><path stroke="#f2ff0d" d="M456.94 141.05h1.54M454.66 139.35h1.54"/><path stroke="#fcff03" d="M450.10 142.75h1.54M451.24 141.05h1.54"/><path stroke="#ffed00" d="M459.22 144.45h1.54M453.52 139.35h1.54"/><path stroke="#ffe300" d="M451.24 142.75h1.54M453.52 141.05h1.54"/><path stroke="#ffd800" d="M460.36 146.15h1.54M458.08 142.75h1.54"/><path stroke="#ffc300" d="M448.96 146.15h1.54"/><path stroke="#ffb900" d="M459.22 146.15h1.54"/><path stroke="#ffae00" d="M458.08 144.45h1.54"/><path stroke="#ffa400" d="M453.52 142.75h1.54M455.80 142.75h1.54M454.66 141.05h1.54"/><path stroke="#ff9a00" d="M450.10 144.45h1.54M452.38 142.75h1.54"/><path stroke="#ff8500" d="M458.08 146.15h1.54M454.66 142.75h1.54"/><path stroke="#ff7a00" d="M450.10 146.15h1.54M451.24 144.45h1.54"/><path stroke="#ff7000" d="M456.94 144.45h1.54"/><path stroke="#ff6600" d="M455.80 144.45h1.54M456.94 142.75h1.54"/><path stroke="#ff5b00" d="M452.38 146.15h1.54M454.66 144.45h1.54"/><path stroke="#ff5100" d="M452.38 144.45h1.54"/><path stroke="#ff4600" d="M451.24 146.15h1.54M453.52 144.45h1.54"/><path stroke="#ff2700" d="M454.66 146.15h3.82"/><path stroke="#f20000" d="M453.52 146.15h1.54"/></g><path d="M459.4 144.5 L459.3 120.0 L459.5 105.0 L459.2 96.0 L459.0 88.1" fill="none" stroke="#fff" stroke-width="1.25" stroke-linejoin="round" stroke-linecap="round"/><path d="M404.70 147.00h1.60M541.50 147.00h-1.60M404.70 140.20h1.60M541.50 140.20h-1.60M404.70 133.40h1.60M541.50 133.40h-1.60M404.70 126.60h3.20M541.50 126.60h-3.20M404.70 119.80h1.60M541.50 119.80h-1.60M404.70 113.00h1.60M541.50 113.00h-1.60M404.70 106.20h1.60M541.50 106.20h-1.60M404.70 99.40h3.20M541.50 99.40h-3.20M404.70 92.60h1.60M541.50 92.60h-1.60M404.70 85.80h1.60M541.50 85.80h-1.60M404.70 79.00h1.60M541.50 79.00h-1.60M404.70 72.20h3.20M541.50 72.20h-3.20M404.70 65.40h1.60M541.50 65.40h-1.60M404.70 58.60h1.60M541.50 58.60h-1.60M404.70 51.80h1.60M541.50 51.80h-1.60M404.70 45.00h3.20M541.50 45.00h-3.20M404.70 38.20h1.60M541.50 38.20h-1.60M404.70 31.40h1.60M541.50 31.40h-1.60M404.70 24.60h1.60M541.50 24.60h-1.60M411.56 153.80v-1.60M411.56 17.80v1.60M415.58 153.80v-1.60M415.58 17.80v1.60M418.43 153.80v-1.60M418.43 17.80v1.60M420.64 153.80v-1.60M420.64 17.80v1.60M422.44 153.80v-1.60M422.44 17.80v1.60M423.97 153.80v-1.60M423.97 17.80v1.60M425.29 153.80v-1.60M425.29 17.80v1.60M426.46 153.80v-1.60M426.46 17.80v1.60M427.50 153.80v-3.20M427.50 17.80v3.20M434.36 153.80v-1.60M434.36 17.80v1.60M438.38 153.80v-1.60M438.38 17.80v1.60M441.23 153.80v-1.60M441.23 17.80v1.60M443.44 153.80v-1.60M443.44 17.80v1.60M445.24 153.80v-1.60M445.24 17.80v1.60M446.77 153.80v-1.60M446.77 17.80v1.60M448.09 153.80v-1.60M448.09 17.80v1.60M449.26 153.80v-1.60M449.26 17.80v1.60M450.30 153.80v-3.20M450.30 17.80v3.20M457.16 153.80v-1.60M457.16 17.80v1.60M461.18 153.80v-1.60M461.18 17.80v1.60M464.03 153.80v-1.60M464.03 17.80v1.60M466.24 153.80v-1.60M466.24 17.80v1.60M468.04 153.80v-1.60M468.04 17.80v1.60M469.57 153.80v-1.60M469.57 17.80v1.60M470.89 153.80v-1.60M470.89 17.80v1.60M472.06 153.80v-1.60M472.06 17.80v1.60M473.10 153.80v-3.20M473.10 17.80v3.20M479.96 153.80v-1.60M479.96 17.80v1.60M483.98 153.80v-1.60M483.98 17.80v1.60M486.83 153.80v-1.60M486.83 17.80v1.60M489.04 153.80v-1.60M489.04 17.80v1.60M490.84 153.80v-1.60M490.84 17.80v1.60M492.37 153.80v-1.60M492.37 17.80v1.60M493.69 153.80v-1.60M493.69 17.80v1.60M494.86 153.80v-1.60M494.86 17.80v1.60M495.90 153.80v-3.20M495.90 17.80v3.20M502.76 153.80v-1.60M502.76 17.80v1.60M506.78 153.80v-1.60M506.78 17.80v1.60M509.63 153.80v-1.60M509.63 17.80v1.60M511.84 153.80v-1.60M511.84 17.80v1.60M513.64 153.80v-1.60M513.64 17.80v1.60M515.17 153.80v-1.60M515.17 17.80v1.60M516.49 153.80v-1.60M516.49 17.80v1.60M517.66 153.80v-1.60M517.66 17.80v1.60M518.70 153.80v-3.20M518.70 17.80v3.20M525.56 153.80v-1.60M525.56 17.80v1.60M529.58 153.80v-1.60M529.58 17.80v1.60M532.43 153.80v-1.60M532.43 17.80v1.60M534.64 153.80v-1.60M534.64 17.80v1.60M536.44 153.80v-1.60M536.44 17.80v1.60M537.97 153.80v-1.60M537.97 17.80v1.60M539.29 153.80v-1.60M539.29 17.80v1.60M540.46 153.80v-1.60M540.46 17.80v1.60" stroke="#333" stroke-width="0.7" fill="none"/><rect x="404.70" y="17.80" width="136.80" height="136.00" fill="none" stroke="#333" stroke-width="0.75"/><text x="472.80" y="10.90" font-size="11.7" text-anchor="middle">DFR Product</text><text x="401.80" y="154.30" font-size="9.3" text-anchor="end">0</text><text x="401.80" y="130.90" font-size="9.3" text-anchor="end">2</text><text x="401.80" y="103.70" font-size="9.3" text-anchor="end">4</text><text x="401.80" y="76.50" font-size="9.3" text-anchor="end">6</text><text x="401.80" y="49.30" font-size="9.3" text-anchor="end">8</text><text x="401.80" y="25.00" font-size="9.3" text-anchor="end">10</text><text x="405.20" y="171.10" font-size="9.3" text-anchor="middle">10<tspan font-size="6.8" dy="-4.5">1</tspan></text><text x="428.00" y="171.10" font-size="9.3" text-anchor="middle">10<tspan font-size="6.8" dy="-4.5">2</tspan></text><text x="450.80" y="171.10" font-size="9.3" text-anchor="middle">10<tspan font-size="6.8" dy="-4.5">3</tspan></text><text x="473.60" y="171.10" font-size="9.3" text-anchor="middle">10<tspan font-size="6.8" dy="-4.5">4</tspan></text><text x="496.40" y="171.10" font-size="9.3" text-anchor="middle">10<tspan font-size="6.8" dy="-4.5">5</tspan></text><text x="519.20" y="171.10" font-size="9.3" text-anchor="middle">10<tspan font-size="6.8" dy="-4.5">6</tspan></text><text x="542.00" y="171.10" font-size="9.3" text-anchor="middle">10<tspan font-size="6.8" dy="-4.5">7</tspan></text><text x="473.10" y="185.70" text-anchor="middle" xml:space="preserve"><tspan font-size="9.3" dy="0.0">N</tspan><tspan font-size="5.8" dy="2.0">W</tspan><tspan font-size="9.3" dy="-2.0"> (DPR), mm</tspan><tspan font-size="5.0" dy="-5.0">-1</tspan><tspan font-size="9.3" dy="5.0">m</tspan><tspan font-size="5.0" dy="-5.0">-3</tspan></text><text transform="translate(381.50 85.50) rotate(-90)" font-size="9.45" text-anchor="middle">Height above 0<tspan font-size="6.5" dy="-4.2">0</tspan><tspan dy="4.2">C, km</tspan></text><text x="450.20" y="32.70" font-size="7.55" stroke-width="0.12">nPoint=164675</text><text x="450.20" y="41.00" font-size="7.55" stroke-width="0.12" xml:space="preserve">mean= 2.6e+03</text></g>
<g><g fill="none" stroke-width="2.10" filter="url(#soft)"><path stroke="#000094" stroke-width="1.80" d="M88.66 344.65h57.00M150.22 344.65h2.28M88.66 342.95h57.00M88.66 341.25h57.00M88.66 339.55h57.00M88.66 337.85h54.72M88.66 336.15h54.72M147.94 336.15h2.28M88.66 334.45h52.44M88.66 332.75h54.72M145.66 332.75h2.28M88.66 331.05h52.44M88.66 329.35h50.16M88.66 327.65h47.88M138.82 327.65h2.28M88.66 325.95h50.16M141.10 325.95h2.28M88.66 324.25h50.16M88.66 322.55h50.16M88.66 320.85h47.88M88.66 319.15h47.88M88.66 317.45h45.60M88.66 315.75h45.60M88.66 314.05h45.60M88.66 312.35h45.60M88.66 310.65h43.32M88.66 308.95h41.04M134.26 308.95h4.56M88.66 307.25h41.04M88.66 305.55h38.76M88.66 303.85h38.76M88.66 302.15h38.76M88.66 300.45h38.76M88.66 298.75h34.20M88.66 297.05h36.48M88.66 295.35h34.20M88.66 293.65h34.20M88.66 291.95h29.64M120.58 291.95h2.28M88.66 290.25h11.40M102.34 290.25h18.24M122.86 290.25h2.28M88.66 288.55h11.40M102.34 288.55h2.28M109.18 288.55h2.28M113.74 288.55h4.56M120.58 288.55h2.28M125.14 288.55h2.28M88.66 286.85h9.12M102.34 286.85h2.28M109.18 286.85h2.28M113.74 286.85h2.28M88.66 285.15h2.28M93.22 285.15h2.28M102.34 285.15h2.28M118.30 285.15h2.28M102.34 283.45h2.28M93.22 281.75h4.56M109.18 281.75h2.28M90.94 276.65h2.28M95.50 276.65h2.28M100.06 276.65h2.28M90.94 280.05h2.28M97.78 280.05h2.28"/><path stroke="#00009e" d="M136.34 344.65h2.68M136.34 342.95h2.68M136.34 341.25h2.68M134.06 336.15h2.68M134.06 334.45h2.68M131.78 331.05h2.68M131.78 329.35h2.68M129.50 325.95h2.68M127.22 322.55h2.68M124.94 319.15h2.68M122.66 317.45h2.68M120.38 314.05h2.68M88.46 312.35h2.68M118.10 312.35h2.68M88.46 310.65h2.68M115.82 310.65h2.68M88.46 308.95h2.68M113.54 308.95h2.68M108.98 307.25h4.96M104.42 305.55h4.96M93.02 303.85h9.52"/><path stroke="#0000a9" d="M134.06 339.55h2.68M134.06 337.85h2.68M131.78 332.75h2.68M129.50 329.35h2.68M129.50 327.65h2.68M127.22 325.95h2.68M127.22 324.25h2.68M124.94 322.55h2.68M124.94 320.85h2.68M122.66 319.15h2.68M88.46 315.75h2.68M120.38 315.75h2.68M88.46 314.05h2.68M118.10 314.05h2.68M115.82 312.35h2.68M113.54 310.65h2.68M111.26 308.95h2.68M104.42 307.25h4.96M90.74 305.55h14.08"/><path stroke="#0000b3" d="M134.06 344.65h2.68M134.06 342.95h2.68M134.06 341.25h2.68M131.78 336.15h2.68M131.78 334.45h2.68M129.50 331.05h2.68M127.22 327.65h2.68M124.94 324.25h2.68M122.66 320.85h2.68M88.46 319.15h2.68M88.46 317.45h2.68M120.38 317.45h2.68M118.10 315.75h2.68M115.82 314.05h2.68M113.54 312.35h2.68M111.26 310.65h2.68M106.70 308.95h4.96M90.74 307.25h7.24M99.86 307.25h4.96"/><path stroke="#0000be" d="M131.78 341.25h2.68M131.78 339.55h2.68M131.78 337.85h2.68M129.50 334.45h2.68M129.50 332.75h2.68M127.22 329.35h2.68M122.66 322.55h2.68M88.46 320.85h2.68M120.38 319.15h2.68M118.10 317.45h2.68M115.82 315.75h2.68M111.26 312.35h2.68M108.98 310.65h2.68M102.14 308.95h4.96M97.58 307.25h2.68"/><path stroke="#0000c8" d="M131.78 342.95h2.68M129.50 336.15h2.68M127.22 331.05h2.68M124.94 325.95h2.68M122.66 324.25h2.68M88.46 322.55h2.68M120.38 320.85h2.68M118.10 319.15h2.68M113.54 314.05h2.68M106.70 310.65h2.68M90.74 308.95h11.80"/><path stroke="#0000d2" d="M131.78 344.65h2.68M129.50 339.55h2.68M129.50 337.85h2.68M127.22 332.75h2.68M124.94 327.65h2.68M88.46 324.25h2.68M115.82 317.45h2.68M113.54 315.75h2.68M111.26 314.05h2.68M108.98 312.35h2.68M102.14 310.65h4.96"/><path stroke="#0000dd" d="M124.94 329.35h2.68M88.46 325.95h2.68M122.66 325.95h2.68M120.38 322.55h2.68M108.98 314.05h2.68M106.70 312.35h2.68M90.74 310.65h7.24M99.86 310.65h2.68"/><path stroke="#0000e7" d="M129.50 344.65h2.68M129.50 342.95h2.68M129.50 341.25h2.68M127.22 334.45h2.68M88.46 329.35h2.68M88.46 327.65h2.68M120.38 324.25h2.68M118.10 320.85h2.68M115.82 319.15h2.68M113.54 317.45h2.68M111.26 315.75h2.68M90.74 312.35h2.68M102.14 312.35h4.96M97.58 310.65h2.68"/><path stroke="#0000f2" d="M127.22 337.85h2.68M127.22 336.15h2.68M124.94 332.75h2.68M124.94 331.05h2.68M122.66 327.65h2.68M118.10 322.55h2.68M106.70 314.05h2.68M93.02 312.35h4.96"/><path stroke="#0000fc" d="M127.22 339.55h2.68M88.46 332.75h2.68M88.46 331.05h2.68M122.66 329.35h2.68M120.38 325.95h2.68M115.82 320.85h2.68M113.54 319.15h2.68M108.98 315.75h2.68M104.42 314.05h2.68M97.58 312.35h4.96"/><path stroke="#0007ff" d="M127.22 341.25h2.68M88.46 334.45h2.68M124.94 334.45h2.68M120.38 327.65h2.68M118.10 324.25h2.68M111.26 317.45h2.68M102.14 314.05h2.68"/><path stroke="#0012ff" d="M127.22 344.65h2.68M127.22 342.95h2.68M124.94 337.85h2.68M124.94 336.15h2.68M122.66 331.05h2.68M115.82 322.55h2.68M113.54 320.85h2.68M111.26 319.15h2.68M106.70 315.75h2.68M90.74 314.05h4.96M99.86 314.05h2.68"/><path stroke="#001cff" d="M88.46 337.85h2.68M88.46 336.15h2.68M108.98 317.45h2.68M104.42 315.75h2.68M95.30 314.05h2.68"/><path stroke="#0027ff" d="M88.46 339.55h2.68M122.66 334.45h2.68M122.66 332.75h2.68M120.38 329.35h2.68M118.10 325.95h2.68M115.82 324.25h2.68M97.58 314.05h2.68"/><path stroke="#0031ff" d="M88.46 342.95h2.68M124.94 341.25h2.68M124.94 339.55h2.68M120.38 331.05h2.68M113.54 322.55h2.68M106.70 317.45h2.68M90.74 315.75h2.68"/><path stroke="#003bff" d="M88.46 341.25h2.68M122.66 336.15h2.68M118.10 327.65h2.68M111.26 320.85h2.68M93.02 315.75h2.68M97.58 315.75h7.24"/><path stroke="#0046ff" d="M88.46 344.65h2.68M124.94 342.95h2.68M120.38 332.75h2.68M115.82 325.95h2.68M108.98 319.15h2.68M104.42 317.45h2.68M95.30 315.75h2.68"/><path stroke="#0050ff" d="M124.94 344.65h2.68M118.10 329.35h2.68M106.70 319.15h2.68M90.74 317.45h4.96"/><path stroke="#005bff" d="M122.66 337.85h2.68M113.54 324.25h2.68M108.98 320.85h2.68M95.30 317.45h2.68M102.14 317.45h2.68"/><path stroke="#0065ff" d="M122.66 339.55h2.68M120.38 334.45h2.68M118.10 331.05h2.68M111.26 322.55h2.68M104.42 319.15h2.68M97.58 317.45h4.96"/><path stroke="#0070ff" d="M122.66 341.25h2.68M115.82 327.65h2.68M95.30 319.15h2.68"/><path stroke="#007aff" d="M122.66 344.65h2.68M111.26 324.25h2.68M99.86 319.15h4.96"/><path stroke="#0084ff" d="M122.66 342.95h2.68M120.38 337.85h2.68M120.38 336.15h2.68M118.10 332.75h2.68M113.54 325.95h2.68M106.70 320.85h2.68M90.74 319.15h2.68"/><path stroke="#008fff" d="M108.98 322.55h2.68M104.42 320.85h2.68M93.02 319.15h2.68"/><path stroke="#0099ff" d="M120.38 339.55h2.68M115.82 331.05h2.68M115.82 329.35h2.68M113.54 327.65h2.68M106.70 322.55h2.68M97.58 319.15h2.68"/><path stroke="#00a4ff" d="M118.10 336.15h2.68M108.98 324.25h2.68M102.14 320.85h2.68"/><path stroke="#00aeff" d="M118.10 334.45h2.68M115.82 332.75h2.68M111.26 325.95h2.68M90.74 320.85h2.68M99.86 320.85h2.68"/><path stroke="#00c3ff" d="M120.38 341.25h2.68"/><path stroke="#00cdff" d="M113.54 329.35h2.68M104.42 322.55h2.68M93.02 320.85h2.68M97.58 320.85h2.68"/><path stroke="#00d8ff" d="M120.38 342.95h2.68M90.74 322.55h2.68M95.30 320.85h2.68"/><path stroke="#00e2ff" d="M120.38 344.65h2.68M118.10 337.85h2.68M111.26 327.65h2.68M99.86 322.55h4.96"/><path stroke="#00edff" d="M115.82 334.45h2.68M106.70 324.25h2.68M97.58 322.55h2.68"/><path stroke="#00f7ff" d="M113.54 331.05h2.68M111.26 329.35h2.68M106.70 325.95h4.96M93.02 322.55h4.96"/><path stroke="#02fffd" d="M118.10 339.55h2.68M115.82 336.15h2.68"/><path stroke="#0dfff2" d="M118.10 342.95h2.68M118.10 341.25h2.68M113.54 332.75h2.68M108.98 327.65h2.68"/><path stroke="#17ffe8" d="M115.82 337.85h2.68M90.74 324.25h2.68M102.14 324.25h4.96"/><path stroke="#22ffdd" d="M118.10 344.65h2.68M93.02 324.25h2.68"/><path stroke="#2cffd3" d="M113.54 334.45h2.68"/><path stroke="#36ffc9" d="M104.42 325.95h2.68M99.86 324.25h2.68"/><path stroke="#41ffbe" d="M115.82 339.55h2.68M111.26 331.05h2.68M106.70 327.65h2.68M90.74 325.95h4.96M102.14 325.95h2.68M95.30 324.25h4.96"/><path stroke="#56ffa9" d="M108.98 329.35h2.68"/><path stroke="#60ff9f" d="M111.26 332.75h2.68M95.30 325.95h2.68"/><path stroke="#6aff95" d="M115.82 342.95h2.68M106.70 329.35h2.68M97.58 325.95h2.68"/><path stroke="#75ff8a" d="M115.82 341.25h2.68M108.98 331.05h2.68M104.42 327.65h2.68M99.86 325.95h2.68"/><path stroke="#7fff80" d="M113.54 337.85h2.68M113.54 336.15h2.68M90.74 327.65h2.68M102.14 327.65h2.68"/><path stroke="#94ff6b" d="M115.82 344.65h2.68M111.26 334.45h2.68M108.98 332.75h2.68"/><path stroke="#9fff60" d="M113.54 339.55h2.68M104.42 329.35h2.68"/><path stroke="#a9ff56" d="M97.58 327.65h2.68"/><path stroke="#b3ff4c" d="M111.26 336.15h2.68M99.86 327.65h2.68"/><path stroke="#beff41" d="M113.54 341.25h2.68M93.02 327.65h2.68"/><path stroke="#c8ff37" d="M108.98 334.45h2.68M106.70 331.05h2.68M90.74 329.35h2.68"/><path stroke="#ddff22" d="M111.26 337.85h2.68M95.30 327.65h2.68"/><path stroke="#e7ff18" d="M113.54 342.95h2.68M106.70 332.75h2.68"/><path stroke="#f2ff0d" d="M102.14 329.35h2.68"/><path stroke="#fcff03" d="M93.02 329.35h2.68"/><path stroke="#fff700" d="M113.54 344.65h2.68M104.42 331.05h2.68M95.30 329.35h4.96"/><path stroke="#ffe300" d="M111.26 339.55h2.68M106.70 334.45h2.68"/><path stroke="#ffd800" d="M104.42 332.75h2.68M102.14 331.05h2.68M99.86 329.35h2.68"/><path stroke="#ffce00" d="M111.26 341.25h2.68M108.98 336.15h2.68M90.74 331.05h4.96"/><path stroke="#ffc300" d="M111.26 342.95h2.68M99.86 331.05h2.68"/><path stroke="#ffb900" d="M108.98 337.85h2.68M106.70 336.15h2.68"/><path stroke="#ffa400" d="M104.42 334.45h2.68M102.14 332.75h2.68"/><path stroke="#ff9a00" d="M97.58 331.05h2.68"/><path stroke="#ff8f00" d="M90.74 332.75h2.68M95.30 332.75h2.68M99.86 332.75h2.68"/><path stroke="#ff8500" d="M111.26 344.65h2.68"/><path stroke="#ff7a00" d="M97.58 332.75h2.68"/><path stroke="#ff7000" d="M108.98 341.25h2.68M108.98 339.55h2.68M95.30 331.05h2.68"/><path stroke="#ff6600" d="M106.70 337.85h2.68M104.42 336.15h2.68M93.02 332.75h2.68"/><path stroke="#ff4600" d="M102.14 334.45h2.68"/><path stroke="#ff3c00" d="M108.98 342.95h2.68"/><path stroke="#ff3200" d="M90.74 334.45h4.96M97.58 334.45h2.68"/><path stroke="#ff2700" d="M106.70 339.55h2.68M93.02 336.15h2.68M102.14 336.15h2.68M99.86 334.45h2.68"/><path stroke="#ff1d00" d="M108.98 344.65h2.68M90.74 336.15h2.68M95.30 336.15h2.68"/><path stroke="#ff1200" d="M104.42 337.85h2.68"/><path stroke="#fc0000" d="M106.70 344.65h2.68M106.70 341.25h2.68M95.30 334.45h2.68"/><path stroke="#dd0000" d="M99.86 336.15h2.68"/><path stroke="#d30000" d="M106.70 342.95h2.68M104.42 339.55h2.68M90.74 337.85h2.68M102.14 337.85h2.68"/><path stroke="#b40000" d="M97.58 339.55h2.68M97.58 337.85h2.68"/><path stroke="#a90000" d="M104.42 342.95h2.68M95.30 337.85h2.68"/><path stroke="#9f0000" d="M102.14 339.55h2.68"/><path stroke="#940000" d="M93.02 337.85h2.68"/><path stroke="#8a0000" d="M97.58 336.15h2.68"/><path stroke="#800000" d="M90.74 344.65h16.36M90.74 342.95h14.08M90.74 341.25h16.36M90.74 339.55h7.24M99.86 339.55h2.68M99.86 337.85h2.68"/></g><path d="M109.2 344.1 L107.7 336.4 L106.9 323.0 L107.3 303.8 L107.9 292.0 L108.2 285.6" fill="none" stroke="#fff" stroke-width="1.25" stroke-linejoin="round" stroke-linecap="round"/><path d="M38.50 345.50h1.60M175.30 345.50h-1.60M38.50 338.70h1.60M175.30 338.70h-1.60M38.50 331.90h1.60M175.30 331.90h-1.60M38.50 325.10h3.20M175.30 325.10h-3.20M38.50 318.30h1.60M175.30 318.30h-1.60M38.50 311.50h1.60M175.30 311.50h-1.60M38.50 304.70h1.60M175.30 304.70h-1.60M38.50 297.90h3.20M175.30 297.90h-3.20M38.50 291.10h1.60M175.30 291.10h-1.60M38.50 284.30h1.60M175.30 284.30h-1.60M38.50 277.50h1.60M175.30 277.50h-1.60M38.50 270.70h3.20M175.30 270.70h-3.20M38.50 263.90h1.60M175.30 263.90h-1.60M38.50 257.10h1.60M175.30 257.10h-1.60M38.50 250.30h1.60M175.30 250.30h-1.60M38.50 243.50h3.20M175.30 243.50h-3.20M38.50 236.70h1.60M175.30 236.70h-1.60M38.50 229.90h1.60M175.30 229.90h-1.60M38.50 223.10h1.60M175.30 223.10h-1.60M52.23 352.30v-1.60M52.23 216.30v1.60M60.26 352.30v-1.60M60.26 216.30v1.60M65.95 352.30v-1.60M65.95 216.30v1.60M70.37 352.30v-1.60M70.37 216.30v1.60M73.98 352.30v-1.60M73.98 216.30v1.60M77.04 352.30v-1.60M77.04 216.30v1.60M79.68 352.30v-1.60M79.68 216.30v1.60M82.01 352.30v-1.60M82.01 216.30v1.60M84.10 352.30v-3.20M84.10 216.30v3.20M97.83 352.30v-1.60M97.83 216.30v1.60M105.86 352.30v-1.60M105.86 216.30v1.60M111.55 352.30v-1.60M111.55 216.30v1.60M115.97 352.30v-1.60M115.97 216.30v1.60M119.58 352.30v-1.60M119.58 216.30v1.60M122.64 352.30v-1.60M122.64 216.30v1.60M125.28 352.30v-1.60M125.28 216.30v1.60M127.61 352.30v-1.60M127.61 216.30v1.60M129.70 352.30v-3.20M129.70 216.30v3.20M143.43 352.30v-1.60M143.43 216.30v1.60M151.46 352.30v-1.60M151.46 216.30v1.60M157.15 352.30v-1.60M157.15 216.30v1.60M161.57 352.30v-1.60M161.57 216.30v1.60M165.18 352.30v-1.60M165.18 216.30v1.60M168.24 352.30v-1.60M168.24 216.30v1.60M170.88 352.30v-1.60M170.88 216.30v1.60M173.21 352.30v-1.60M173.21 216.30v1.60" stroke="#333" stroke-width="0.7" fill="none"/><rect x="38.50" y="216.30" width="136.80" height="136.00" fill="none" stroke="#333" stroke-width="0.75"/><text x="106.60" y="209.40" font-size="11.7" text-anchor="middle">Estimated via DFR</text><text x="35.60" y="352.80" font-size="9.3" text-anchor="end">0</text><text x="35.60" y="329.40" font-size="9.3" text-anchor="end">2</text><text x="35.60" y="302.20" font-size="9.3" text-anchor="end">4</text><text x="35.60" y="275.00" font-size="9.3" text-anchor="end">6</text><text x="35.60" y="247.80" font-size="9.3" text-anchor="end">8</text><text x="35.60" y="223.50" font-size="9.3" text-anchor="end">10</text><text x="39.00" y="369.60" font-size="9.3" text-anchor="middle">10<tspan font-size="6.8" dy="-4.5">-1</tspan></text><text x="84.60" y="369.60" font-size="9.3" text-anchor="middle">10<tspan font-size="6.8" dy="-4.5">0</tspan></text><text x="130.20" y="369.60" font-size="9.3" text-anchor="middle">10<tspan font-size="6.8" dy="-4.5">1</tspan></text><text x="175.80" y="369.60" font-size="9.3" text-anchor="middle">10<tspan font-size="6.8" dy="-4.5">2</tspan></text><text x="106.90" y="384.20" text-anchor="middle" xml:space="preserve"><tspan font-size="9.3" dy="0.0">R, mm/h</tspan></text><text transform="translate(15.30 284.00) rotate(-90)" font-size="9.45" text-anchor="middle">Height above 0<tspan font-size="6.5" dy="-4.2">0</tspan><tspan dy="4.2">C, km</tspan></text><text x="84.00" y="231.20" font-size="7.55" stroke-width="0.12">nPoint=164675</text><text x="84.00" y="239.50" font-size="7.55" stroke-width="0.12" xml:space="preserve">mean=3.30</text></g>
<g><g fill="none" stroke-width="2.10" filter="url(#soft)"><path stroke="#000094" stroke-width="1.80" d="M238.60 344.65h56.43M298.45 344.65h1.71M238.60 342.95h53.01M238.60 341.25h51.30M238.60 339.55h49.59M238.60 337.85h47.88M238.60 336.15h46.17M238.60 334.45h44.46M238.60 332.75h44.46M238.60 331.05h42.75M238.60 329.35h41.04M238.60 327.65h41.04M238.60 325.95h39.33M238.60 324.25h35.91M238.60 322.55h37.62M238.60 320.85h35.91M238.60 319.15h34.20M238.60 317.45h34.20M238.60 315.75h32.49M238.60 314.05h32.49M238.60 312.35h32.49M238.60 310.65h29.07M238.60 308.95h27.36M238.60 307.25h25.65M238.60 305.55h23.94M238.60 303.85h22.23M238.60 302.15h25.65M238.60 300.45h22.23M238.60 298.75h20.52M238.60 297.05h18.81M238.60 295.35h20.52M238.60 293.65h17.10M238.60 291.95h17.10M238.60 290.25h13.68M238.60 288.55h13.68M238.60 286.85h13.68M238.60 285.15h10.26M238.60 283.45h11.97M238.60 281.75h10.26M238.60 280.05h10.26M238.60 278.35h8.55M238.60 276.65h6.84M238.60 274.95h6.84M247.15 274.95h1.71M242.02 273.25h1.71"/><path stroke="#00009e" d="M276.02 344.65h2.11M274.31 341.25h2.11M272.60 339.55h2.11M270.89 336.15h2.11M269.18 334.45h2.11M267.47 331.05h2.11M265.76 329.35h2.11M262.34 324.25h2.11M260.63 322.55h2.11M258.92 320.85h2.11M257.21 319.15h2.11M255.50 317.45h2.11M253.79 315.75h2.11M252.08 314.05h2.11M238.40 308.95h2.11M248.66 308.95h2.11M238.40 307.25h2.11M245.24 307.25h2.11M240.11 305.55h5.53"/><path stroke="#0000a9" d="M274.31 342.95h2.11M272.60 341.25h2.11M270.89 337.85h2.11M267.47 332.75h2.11M264.05 327.65h2.11M262.34 325.95h2.11M260.63 324.25h2.11M253.79 317.45h2.11M250.37 312.35h2.11M238.40 310.65h2.11M248.66 310.65h2.11M245.24 308.95h3.82M240.11 307.25h2.11M243.53 307.25h2.11"/><path stroke="#0000b3" d="M274.31 344.65h2.11M270.89 339.55h2.11M269.18 336.15h2.11M267.47 334.45h2.11M265.76 331.05h2.11M264.05 329.35h2.11M262.34 327.65h2.11M258.92 322.55h2.11M257.21 320.85h2.11M255.50 319.15h2.11M252.08 315.75h2.11M250.37 314.05h2.11M238.40 312.35h2.11M248.66 312.35h2.11M246.95 310.65h2.11M241.82 307.25h2.11"/><path stroke="#0000be" d="M272.60 342.95h2.11M269.18 337.85h2.11M265.76 332.75h2.11M260.63 325.95h2.11M258.92 324.25h2.11M255.50 320.85h2.11M252.08 317.45h2.11M238.40 314.05h2.11M248.66 314.05h2.11M246.95 312.35h2.11M245.24 310.65h2.11M240.11 308.95h5.53"/><path stroke="#0000c8" d="M272.60 344.65h2.11M270.89 341.25h2.11M267.47 336.15h2.11M264.05 331.05h2.11M257.21 322.55h2.11M253.79 319.15h2.11M238.40 317.45h2.11M238.40 315.75h2.11M250.37 315.75h2.11M243.53 310.65h2.11"/><path stroke="#0000d2" d="M269.18 339.55h2.11M265.76 334.45h2.11M262.34 329.35h2.11M260.63 327.65h2.11M246.95 314.05h2.11M245.24 312.35h2.11M240.11 310.65h3.82"/><path stroke="#0000dd" d="M270.89 342.95h2.11M269.18 341.25h2.11M267.47 337.85h2.11M264.05 332.75h2.11M258.92 325.95h2.11M257.21 324.25h2.11M255.50 322.55h2.11M253.79 320.85h2.11M238.40 319.15h2.11M252.08 319.15h2.11M250.37 317.45h2.11M248.66 315.75h2.11M243.53 312.35h2.11"/><path stroke="#0000e7" d="M270.89 344.65h2.11M265.76 336.15h2.11M238.40 320.85h2.11M245.24 314.05h2.11M240.11 312.35h3.82"/><path stroke="#0000f2" d="M267.47 339.55h2.11M264.05 334.45h2.11M262.34 331.05h2.11M260.63 329.35h2.11M258.92 327.65h2.11M238.40 324.25h2.11M238.40 322.55h2.11M248.66 317.45h2.11M246.95 315.75h2.11"/><path stroke="#0000fc" d="M238.40 344.65h2.11M269.18 342.95h2.11M262.34 332.75h2.11M257.21 325.95h2.11M250.37 319.15h2.11M245.24 315.75h2.11M241.82 314.05h3.82"/><path stroke="#0007ff" d="M238.40 342.95h2.11M267.47 341.25h2.11M238.40 339.55h2.11M265.76 337.85h2.11M238.40 327.65h2.11M238.40 325.95h2.11M255.50 324.25h2.11M253.79 322.55h2.11M252.08 320.85h2.11M240.11 314.05h2.11"/><path stroke="#0012ff" d="M269.18 344.65h2.11M238.40 341.25h2.11M238.40 336.15h2.11M238.40 332.75h2.11M238.40 331.05h2.11M260.63 331.05h2.11M238.40 329.35h2.11M248.66 319.15h2.11M243.53 315.75h2.11"/><path stroke="#001cff" d="M238.40 337.85h2.11M264.05 336.15h2.11M238.40 334.45h2.11M262.34 334.45h2.11M258.92 329.35h2.11M246.95 317.45h2.11M240.11 315.75h2.11"/><path stroke="#0027ff" d="M267.47 342.95h2.11M265.76 339.55h2.11M257.21 327.65h2.11M252.08 322.55h2.11M250.37 320.85h2.11M241.82 315.75h2.11"/><path stroke="#0031ff" d="M255.50 325.95h2.11M253.79 324.25h2.11M245.24 317.45h2.11"/><path stroke="#003bff" d="M260.63 332.75h2.11M243.53 317.45h2.11"/><path stroke="#0046ff" d="M265.76 341.25h2.11M264.05 337.85h2.11M240.11 317.45h3.82"/><path stroke="#0050ff" d="M267.47 344.65h2.11M262.34 336.15h2.11M258.92 331.05h2.11M257.21 329.35h2.11M250.37 322.55h2.11M248.66 320.85h2.11M245.24 319.15h3.82"/><path stroke="#005bff" d="M253.79 325.95h2.11"/><path stroke="#0065ff" d="M265.76 342.95h2.11M260.63 334.45h2.11M255.50 327.65h2.11M252.08 324.25h2.11M240.11 319.15h2.11M243.53 319.15h2.11"/><path stroke="#0070ff" d="M262.34 337.85h2.11M258.92 332.75h2.11M246.95 320.85h2.11M241.82 319.15h2.11"/><path stroke="#007aff" d="M264.05 339.55h2.11M248.66 322.55h2.11"/><path stroke="#0084ff" d="M257.21 331.05h2.11M240.11 320.85h2.11"/><path stroke="#008fff" d="M264.05 341.25h2.11M252.08 325.95h2.11M250.37 324.25h2.11M243.53 320.85h3.82"/><path stroke="#0099ff" d="M265.76 344.65h2.11M255.50 329.35h2.11M253.79 327.65h2.11M241.82 320.85h2.11"/><path stroke="#00a4ff" d="M260.63 336.15h2.11M258.92 334.45h2.11"/><path stroke="#00aeff" d="M262.34 339.55h2.11M257.21 332.75h2.11M240.11 322.55h2.11"/><path stroke="#00b8ff" d="M264.05 342.95h2.11M245.24 322.55h2.11"/><path stroke="#00c3ff" d="M248.66 324.25h2.11M246.95 322.55h2.11"/><path stroke="#00cdff" d="M252.08 327.65h2.11"/><path stroke="#00d8ff" d="M260.63 337.85h2.11M250.37 325.95h2.11M246.95 324.25h2.11M241.82 322.55h2.11"/><path stroke="#00e2ff" d="M258.92 336.15h2.11M255.50 331.05h2.11M253.79 329.35h2.11M243.53 322.55h2.11"/><path stroke="#00edff" d="M262.34 341.25h2.11M240.11 325.95h2.11M245.24 324.25h2.11"/><path stroke="#00f7ff" d="M248.66 325.95h2.11M240.11 324.25h5.53"/><path stroke="#02fffd" d="M264.05 344.65h2.11M257.21 334.45h2.11M252.08 329.35h2.11"/><path stroke="#17ffe8" d="M260.63 339.55h2.11M255.50 332.75h2.11M246.95 325.95h2.11"/><path stroke="#22ffdd" d="M240.11 344.65h2.11M258.92 337.85h2.11M240.11 327.65h2.11M245.24 325.95h2.11"/><path stroke="#2cffd3" d="M262.34 342.95h2.11M253.79 331.05h2.11M250.37 327.65h2.11"/><path stroke="#36ffc9" d="M240.11 341.25h2.11M240.11 329.35h2.11M241.82 325.95h2.11"/><path stroke="#4bffb4" d="M260.63 341.25h2.11"/><path stroke="#56ffa9" d="M240.11 342.95h2.11M240.11 339.55h2.11M241.82 327.65h2.11M245.24 327.65h2.11M248.66 327.65h2.11M243.53 325.95h2.11"/><path stroke="#60ff9f" d="M240.11 337.85h2.11M240.11 336.15h2.11M240.11 334.45h2.11M240.11 332.75h2.11M240.11 331.05h2.11M250.37 329.35h2.11"/><path stroke="#6aff95" d="M257.21 336.15h2.11M246.95 327.65h2.11"/><path stroke="#75ff8a" d="M241.82 329.35h2.11"/><path stroke="#7fff80" d="M241.82 344.65h2.11M262.34 344.65h2.11M255.50 334.45h2.11M253.79 332.75h2.11"/><path stroke="#8aff75" d="M258.92 339.55h2.11M252.08 331.05h2.11"/><path stroke="#94ff6b" d="M241.82 332.75h2.11M243.53 327.65h2.11"/><path stroke="#9fff60" d="M260.63 342.95h2.11M241.82 339.55h2.11M255.50 336.15h2.11M248.66 329.35h2.11"/><path stroke="#a9ff56" d="M241.82 331.05h2.11"/><path stroke="#b3ff4c" d="M241.82 342.95h2.11M241.82 341.25h2.11M241.82 337.85h2.11M252.08 332.75h2.11"/><path stroke="#beff41" d="M243.53 331.05h2.11M250.37 331.05h2.11M243.53 329.35h2.11"/><path stroke="#c8ff37" d="M241.82 334.45h2.11"/><path stroke="#d3ff2c" d="M241.82 336.15h2.11M253.79 334.45h2.11M246.95 329.35h2.11"/><path stroke="#ddff22" d="M257.21 337.85h2.11M245.24 329.35h2.11"/><path stroke="#e7ff18" d="M260.63 344.65h2.11M246.95 331.05h2.11"/><path stroke="#f2ff0d" d="M258.92 341.25h2.11"/><path stroke="#fcff03" d="M257.21 339.55h2.11M255.50 337.85h2.11M248.66 331.05h2.11"/><path stroke="#fff700" d="M243.53 344.65h2.11M252.08 334.45h2.11M250.37 332.75h2.11"/><path stroke="#ffe300" d="M243.53 342.95h2.11"/><path stroke="#ffd800" d="M257.21 341.25h2.11M243.53 334.45h2.11M243.53 332.75h2.11M245.24 331.05h2.11"/><path stroke="#ffce00" d="M258.92 342.95h2.11M253.79 336.15h2.11"/><path stroke="#ffc300" d="M243.53 341.25h2.11M245.24 334.45h2.11M245.24 332.75h3.82"/><path stroke="#ffb900" d="M248.66 332.75h2.11"/><path stroke="#ffae00" d="M243.53 336.15h2.11"/><path stroke="#ffa400" d="M243.53 339.55h2.11M255.50 339.55h2.11M243.53 337.85h2.11M250.37 334.45h2.11"/><path stroke="#ff7a00" d="M252.08 336.15h2.11"/><path stroke="#ff6600" d="M245.24 344.65h2.11M245.24 337.85h2.11M253.79 337.85h2.11M245.24 336.15h2.11M248.66 334.45h2.11"/><path stroke="#ff5b00" d="M257.21 342.95h2.11M245.24 339.55h2.11M253.79 339.55h2.11"/><path stroke="#ff5100" d="M258.92 344.65h2.11M246.95 334.45h2.11"/><path stroke="#ff4600" d="M245.24 341.25h2.11M246.95 337.85h2.11"/><path stroke="#ff3c00" d="M250.37 336.15h2.11"/><path stroke="#ff3200" d="M245.24 342.95h2.11M246.95 336.15h2.11"/><path stroke="#ff2700" d="M255.50 341.25h2.11"/><path stroke="#ff1200" d="M248.66 336.15h2.11"/><path stroke="#fc0000" d="M246.95 341.25h2.11M248.66 337.85h2.11M252.08 337.85h2.11"/><path stroke="#f20000" d="M246.95 339.55h2.11"/><path stroke="#e80000" d="M246.95 344.65h2.11M253.79 341.25h2.11M250.37 339.55h2.11"/><path stroke="#dd0000" d="M246.95 342.95h2.11M252.08 339.55h2.11"/><path stroke="#c80000" d="M257.21 344.65h2.11M255.50 342.95h2.11M250.37 337.85h2.11"/><path stroke="#be0000" d="M248.66 339.55h2.11"/><path stroke="#9f0000" d="M248.66 342.95h2.11"/><path stroke="#800000" d="M248.66 344.65h8.95M250.37 342.95h5.53M248.66 341.25h5.53"/></g><path d="M255.4 343.0 L253.4 335.3 L250.3 321.0 L247.7 300.6 L246.7 290.0 L246.2 282.2" fill="none" stroke="#fff" stroke-width="1.25" stroke-linejoin="round" stroke-linecap="round"/><path d="M221.50 345.50h1.60M358.30 345.50h-1.60M221.50 338.70h1.60M358.30 338.70h-1.60M221.50 331.90h1.60M358.30 331.90h-1.60M221.50 325.10h3.20M358.30 325.10h-3.20M221.50 318.30h1.60M358.30 318.30h-1.60M221.50 311.50h1.60M358.30 311.50h-1.60M221.50 304.70h1.60M358.30 304.70h-1.60M221.50 297.90h3.20M358.30 297.90h-3.20M221.50 291.10h1.60M358.30 291.10h-1.60M221.50 284.30h1.60M358.30 284.30h-1.60M221.50 277.50h1.60M358.30 277.50h-1.60M221.50 270.70h3.20M358.30 270.70h-3.20M221.50 263.90h1.60M358.30 263.90h-1.60M221.50 257.10h1.60M358.30 257.10h-1.60M221.50 250.30h1.60M358.30 250.30h-1.60M221.50 243.50h3.20M358.30 243.50h-3.20M221.50 236.70h1.60M358.30 236.70h-1.60M221.50 229.90h1.60M358.30 229.90h-1.60M221.50 223.10h1.60M358.30 223.10h-1.60M228.34 352.30v-1.60M228.34 216.30v1.60M235.18 352.30v-1.60M235.18 216.30v1.60M242.02 352.30v-1.60M242.02 216.30v1.60M248.86 352.30v-1.60M248.86 216.30v1.60M255.70 352.30v-3.20M255.70 216.30v3.20M262.54 352.30v-1.60M262.54 216.30v1.60M269.38 352.30v-1.60M269.38 216.30v1.60M276.22 352.30v-1.60M276.22 216.30v1.60M283.06 352.30v-1.60M283.06 216.30v1.60M289.90 352.30v-3.20M289.90 216.30v3.20M296.74 352.30v-1.60M296.74 216.30v1.60M303.58 352.30v-1.60M303.58 216.30v1.60M310.42 352.30v-1.60M310.42 216.30v1.60M317.26 352.30v-1.60M317.26 216.30v1.60M324.10 352.30v-3.20M324.10 216.30v3.20M330.94 352.30v-1.60M330.94 216.30v1.60M337.78 352.30v-1.60M337.78 216.30v1.60M344.62 352.30v-1.60M344.62 216.30v1.60M351.46 352.30v-1.60M351.46 216.30v1.60" stroke="#333" stroke-width="0.7" fill="none"/><rect x="221.50" y="216.30" width="136.80" height="136.00" fill="none" stroke="#333" stroke-width="0.75"/><text x="289.60" y="209.40" font-size="11.7" text-anchor="middle">Estimated via DFR</text><text x="218.60" y="352.80" font-size="9.3" text-anchor="end">0</text><text x="218.60" y="329.40" font-size="9.3" text-anchor="end">2</text><text x="218.60" y="302.20" font-size="9.3" text-anchor="end">4</text><text x="218.60" y="275.00" font-size="9.3" text-anchor="end">6</text><text x="218.60" y="247.80" font-size="9.3" text-anchor="end">8</text><text x="218.60" y="223.50" font-size="9.3" text-anchor="end">10</text><text x="221.50" y="369.60" font-size="9.3" text-anchor="middle">0</text><text x="255.70" y="369.60" font-size="9.3" text-anchor="middle">1</text><text x="289.90" y="369.60" font-size="9.3" text-anchor="middle">2</text><text x="324.10" y="369.60" font-size="9.3" text-anchor="middle">3</text><text x="358.30" y="369.60" font-size="9.3" text-anchor="middle">4</text><text x="289.90" y="384.20" text-anchor="middle" xml:space="preserve"><tspan font-size="9.3" dy="0.0">Estimated D</tspan><tspan font-size="5.8" dy="2.0">m</tspan><tspan font-size="9.3" dy="-2.0">, mm</tspan></text><text transform="translate(198.30 284.00) rotate(-90)" font-size="9.45" text-anchor="middle">Height above 0<tspan font-size="6.5" dy="-4.2">0</tspan><tspan dy="4.2">C, km</tspan></text><text x="267.00" y="231.20" font-size="7.55" stroke-width="0.12">nPoint=164675</text><text x="267.00" y="239.50" font-size="7.55" stroke-width="0.12" xml:space="preserve">mean=0.91</text></g>
<g><g fill="none" stroke-width="2.10" filter="url(#soft)"><path stroke="#000094" stroke-width="1.80" d="M442.32 344.65h84.36M443.46 342.95h80.94M444.60 341.25h78.66M524.40 341.25h2.28M443.46 339.55h2.28M446.88 339.55h78.66M445.74 337.85h78.66M446.88 336.15h1.14M449.16 336.15h76.38M443.46 334.45h1.14M448.02 334.45h75.24M448.02 332.75h76.38M449.16 331.05h72.96M523.26 331.05h2.28M449.16 329.35h2.28M452.58 329.35h69.54M446.88 327.65h1.14M451.44 327.65h69.54M522.12 327.65h1.14M452.58 325.95h70.68M526.68 325.95h1.14M451.44 324.25h1.14M453.72 324.25h68.40M454.86 322.55h64.98M520.98 322.55h1.14M454.86 320.85h67.26M453.72 319.15h1.14M456.00 319.15h64.98M457.14 317.45h63.84M459.42 315.75h1.14M461.70 315.75h58.14M461.70 314.05h57.00M461.70 312.35h54.72M517.56 312.35h2.28M461.70 310.65h1.14M463.98 310.65h54.72M460.56 308.95h1.14M463.98 308.95h55.86M463.98 307.25h2.28M467.40 307.25h49.02M466.26 305.55h49.02M516.42 305.55h1.14M467.40 303.85h49.02M517.56 303.85h1.14M467.40 302.15h1.14M469.68 302.15h46.74M469.68 300.45h45.60M468.54 298.75h1.14M470.82 298.75h1.14M473.10 298.75h37.62M511.86 298.75h3.42M470.82 297.05h6.84M478.80 297.05h31.92M511.86 297.05h2.28M473.10 295.35h2.28M476.52 295.35h27.36M505.02 295.35h1.14M507.30 295.35h3.42M513.00 295.35h1.14M516.42 295.35h1.14M478.80 293.65h6.84M486.78 293.65h1.14M489.06 293.65h7.98M498.18 293.65h1.14M500.46 293.65h1.14M502.74 293.65h1.14M505.02 293.65h1.14M507.30 293.65h3.42M511.86 293.65h1.14M478.80 291.95h1.14M481.08 291.95h3.42M486.78 291.95h3.42M491.34 291.95h1.14M493.62 291.95h1.14M497.04 291.95h2.28M501.60 291.95h2.28M505.02 291.95h1.14M508.44 291.95h2.28M514.14 291.95h1.14M483.36 290.25h1.14M486.78 290.25h1.14M493.62 290.25h2.28M498.18 290.25h1.14M500.46 290.25h1.14M505.02 290.25h1.14M507.30 290.25h2.28M513.00 290.25h1.14M479.94 288.55h1.14M489.06 288.55h1.14M502.74 288.55h1.14M505.02 288.55h1.14M507.30 288.55h2.28M511.86 288.55h1.14M489.06 286.85h1.14M492.48 286.85h1.14M497.04 286.85h1.14M503.88 286.85h2.28M513.00 286.85h1.14M485.64 285.15h1.14M490.20 285.15h1.14M500.46 285.15h1.14M505.02 285.15h1.14M485.64 283.45h1.14M487.92 283.45h1.14M493.62 283.45h1.14M500.46 283.45h1.14"/><path stroke="#00009e" d="M444.40 344.65h1.54M520.78 342.95h1.54M445.54 341.25h1.54M520.78 341.25h1.54M446.68 339.55h1.54M519.64 337.85h1.54M519.64 336.15h1.54M448.96 334.45h1.54M450.10 332.75h1.54M518.50 332.75h1.54M451.24 331.05h1.54M517.36 327.65h1.54M454.66 324.25h1.54M455.80 322.55h1.54M516.22 322.55h1.54M456.94 320.85h1.54M516.22 320.85h1.54M458.08 319.15h1.54M459.22 317.45h1.54M515.08 317.45h1.54M461.50 314.05h1.54M513.94 314.05h1.54M462.64 312.35h1.54M512.80 310.65h1.54M512.80 308.95h1.54M511.66 307.25h1.54M511.66 305.55h1.54M470.62 302.15h1.54M510.52 302.15h1.54M474.04 298.75h1.54M503.68 298.75h1.54M509.38 298.75h1.54M475.18 297.05h1.54M484.30 297.05h2.68M492.28 297.05h1.54M508.24 297.05h1.54M490.00 295.35h1.54M494.56 295.35h1.54M496.84 295.35h1.54M483.16 293.65h1.54M486.58 293.65h1.54M493.42 293.65h1.54"/><path stroke="#0000a9" d="M520.78 344.65h1.54M445.54 342.95h1.54M446.68 341.25h1.54M519.64 341.25h1.54M519.64 339.55h1.54M447.82 337.85h1.54M448.96 336.15h1.54M518.50 336.15h1.54M450.10 334.45h1.54M518.50 334.45h1.54M517.36 331.05h1.54M452.38 329.35h1.54M517.36 329.35h1.54M453.52 327.65h1.54M516.22 327.65h1.54M454.66 325.95h1.54M516.22 325.95h1.54M516.22 324.25h1.54M515.08 320.85h1.54M515.08 319.15h1.54M513.94 315.75h1.54M463.78 312.35h1.54M512.80 312.35h1.54M464.92 310.65h1.54M466.06 308.95h1.54M511.66 308.95h1.54M467.20 307.25h1.54M468.34 305.55h1.54M510.52 305.55h1.54M469.48 303.85h1.54M510.52 303.85h1.54M509.38 302.15h1.54M472.90 300.45h1.54M499.12 300.45h1.54M509.38 300.45h1.54M477.46 298.75h1.54M508.24 298.75h1.54M476.32 297.05h1.54M487.72 297.05h1.54M495.70 297.05h1.54M502.54 297.05h1.54M478.60 295.35h2.68M500.26 295.35h1.54M507.10 295.35h1.54M480.88 293.65h1.54M497.98 293.65h1.54M504.82 290.25h1.54"/><path stroke="#0000b3" d="M445.54 344.65h1.54M519.64 344.65h1.54M519.64 342.95h1.54M447.82 339.55h1.54M518.50 337.85h1.54M517.36 334.45h1.54M451.24 332.75h1.54M517.36 332.75h1.54M452.38 331.05h1.54M516.22 329.35h1.54M455.80 324.25h1.54M515.08 324.25h1.54M456.94 322.55h1.54M515.08 322.55h1.54M458.08 320.85h1.54M459.22 319.15h1.54M513.94 319.15h1.54M460.36 317.45h1.54M513.94 317.45h1.54M461.50 315.75h1.54M512.80 315.75h1.54M462.64 314.05h1.54M512.80 314.05h1.54M511.66 310.65h1.54M510.52 308.95h1.54M510.52 307.25h1.54M469.48 305.55h1.54M470.62 303.85h1.54M509.38 303.85h1.54M471.76 302.15h1.54M505.96 302.15h1.54M474.04 300.45h1.54M503.68 300.45h1.54M508.24 300.45h1.54M475.18 298.75h1.54M484.30 298.75h2.68M492.28 298.75h1.54M501.40 298.75h1.54M490.00 297.05h2.68M496.84 297.05h1.54M507.10 297.05h1.54M488.86 295.35h1.54M493.42 295.35h1.54M504.82 291.95h1.54"/><path stroke="#0000be" d="M446.68 342.95h1.54M518.50 342.95h1.54M518.50 341.25h1.54M518.50 339.55h1.54M448.96 337.85h1.54M517.36 337.85h1.54M450.10 336.15h1.54M517.36 336.15h1.54M451.24 334.45h1.54M516.22 332.75h1.54M516.22 331.05h1.54M453.52 329.35h1.54M515.08 329.35h1.54M454.66 327.65h1.54M515.08 327.65h1.54M455.80 325.95h1.54M515.08 325.95h1.54M456.94 324.25h1.54M513.94 322.55h1.54M513.94 320.85h1.54M512.80 317.45h1.54M463.78 314.05h1.54M511.66 314.05h1.54M464.92 312.35h1.54M511.66 312.35h1.54M466.06 310.65h1.54M510.52 310.65h1.54M467.20 308.95h1.54M468.34 307.25h1.54M509.38 307.25h1.54M509.38 305.55h1.54M508.24 303.85h1.54M472.90 302.15h1.54M499.12 302.15h1.54M508.24 302.15h1.54M476.32 298.75h1.54M507.10 298.75h1.54M488.86 297.05h1.54M494.56 297.05h1.54M483.16 295.35h1.54M486.58 295.35h1.54M497.98 295.35h1.54M504.82 295.35h1.54M482.02 293.65h1.54M504.82 293.65h1.54"/><path stroke="#0000c8" d="M518.50 344.65h1.54M447.82 341.25h1.54M517.36 341.25h1.54M448.96 339.55h1.54M517.36 339.55h1.54M516.22 337.85h1.54M516.22 336.15h1.54M516.22 334.45h1.54M452.38 332.75h1.54M515.08 332.75h1.54M453.52 331.05h1.54M515.08 331.05h1.54M513.94 329.35h1.54M513.94 327.65h1.54M513.94 325.95h1.54M513.94 324.25h1.54M458.08 322.55h1.54M511.66 322.55h2.68M459.22 320.85h1.54M512.80 320.85h1.54M460.36 319.15h1.54M507.10 319.15h1.54M511.66 319.15h2.68M461.50 317.45h1.54M462.64 315.75h1.54M511.66 315.75h1.54M510.52 314.05h1.54M507.10 312.35h1.54M510.52 312.35h1.54M509.38 310.65h1.54M508.24 308.95h2.68M469.48 307.25h1.54M508.24 307.25h1.54M470.62 305.55h1.54M505.96 305.55h3.82M471.76 303.85h1.54M499.12 303.85h1.54M505.96 303.85h2.68M501.40 302.15h4.96M507.10 302.15h1.54M475.18 300.45h1.54M477.46 300.45h1.54M484.30 300.45h1.54M492.28 300.45h2.68M500.26 300.45h2.68M507.10 300.45h1.54M487.72 298.75h1.54M490.00 298.75h2.68M494.56 298.75h3.82M502.54 298.75h1.54M478.60 297.05h2.68M493.42 297.05h1.54M500.26 297.05h1.54M504.82 297.05h1.54M480.88 295.35h1.54"/><path stroke="#0000d2" d="M446.68 344.65h1.54M511.66 344.65h1.54M515.08 344.65h3.82M447.82 342.95h1.54M512.80 342.95h6.10M509.38 341.25h1.54M511.66 341.25h6.10M509.38 339.55h2.68M515.08 339.55h2.68M450.10 337.85h1.54M511.66 337.85h4.96M451.24 336.15h1.54M508.24 336.15h1.54M510.52 336.15h6.10M507.10 334.45h1.54M509.38 334.45h7.24M507.10 332.75h1.54M510.52 332.75h4.96M504.82 331.05h1.54M508.24 331.05h7.24M454.66 329.35h1.54M503.68 329.35h1.54M505.96 329.35h8.38M455.80 327.65h1.54M503.68 327.65h1.54M507.10 327.65h7.24M502.54 325.95h1.54M505.96 325.95h8.38M458.08 324.25h1.54M499.12 324.25h1.54M502.54 324.25h2.68M505.96 324.25h8.38M500.26 322.55h1.54M502.54 322.55h9.52M501.40 320.85h11.80M499.12 319.15h8.38M508.24 319.15h3.82M496.84 317.45h1.54M500.26 317.45h6.10M507.10 317.45h6.10M496.84 315.75h2.68M500.26 315.75h11.80M464.92 314.05h1.54M497.98 314.05h12.94M466.06 312.35h1.54M494.56 312.35h6.10M501.40 312.35h6.10M508.24 312.35h2.68M467.20 310.65h1.54M497.98 310.65h11.80M468.34 308.95h1.54M492.28 308.95h1.54M495.70 308.95h1.54M497.98 308.95h10.66M488.86 307.25h1.54M491.14 307.25h17.50M490.00 305.55h4.96M496.84 305.55h9.52M472.90 303.85h1.54M491.14 303.85h1.54M493.42 303.85h2.68M496.84 303.85h2.68M500.26 303.85h6.10M474.04 302.15h1.54M488.86 302.15h2.68M493.42 302.15h6.10M500.26 302.15h1.54M476.32 300.45h1.54M485.44 300.45h7.24M494.56 300.45h4.96M502.54 300.45h1.54M504.82 300.45h1.54M479.74 298.75h1.54M486.58 298.75h1.54M488.86 298.75h1.54M493.42 298.75h1.54M497.98 298.75h1.54M500.26 298.75h1.54M504.82 298.75h1.54M480.88 297.05h1.54M483.16 297.05h1.54M486.58 297.05h1.54M497.98 297.05h1.54M482.02 295.35h1.54"/><path stroke="#0000dd" d="M505.96 344.65h6.10M512.80 344.65h2.68M505.96 342.95h1.54M508.24 342.95h4.96M448.96 341.25h1.54M507.10 341.25h2.68M510.52 341.25h1.54M503.68 339.55h6.10M511.66 339.55h3.82M503.68 337.85h8.38M501.40 336.15h7.24M509.38 336.15h1.54M452.38 334.45h1.54M501.40 334.45h6.10M508.24 334.45h1.54M453.52 332.75h1.54M500.26 332.75h7.24M508.24 332.75h2.68M454.66 331.05h1.54M499.12 331.05h2.68M502.54 331.05h2.68M505.96 331.05h2.68M497.98 329.35h6.10M504.82 329.35h1.54M496.84 327.65h7.24M504.82 327.65h2.68M456.94 325.95h1.54M495.70 325.95h1.54M497.98 325.95h4.96M503.68 325.95h2.68M495.70 324.25h3.82M500.26 324.25h2.68M504.82 324.25h1.54M459.22 322.55h1.54M494.56 322.55h6.10M501.40 322.55h1.54M460.36 320.85h1.54M492.28 320.85h1.54M494.56 320.85h7.24M494.56 319.15h4.96M462.64 317.45h1.54M491.14 317.45h6.10M497.98 317.45h2.68M505.96 317.45h1.54M463.78 315.75h1.54M490.00 315.75h7.24M499.12 315.75h1.54M490.00 314.05h8.38M486.58 312.35h1.54M488.86 312.35h6.10M500.26 312.35h1.54M484.30 310.65h1.54M487.72 310.65h10.66M486.58 308.95h6.10M493.42 308.95h2.68M496.84 308.95h1.54M470.62 307.25h1.54M486.58 307.25h2.68M490.00 307.25h1.54M471.76 305.55h1.54M480.88 305.55h1.54M484.30 305.55h6.10M494.56 305.55h2.68M474.04 303.85h1.54M483.16 303.85h2.68M487.72 303.85h3.82M492.28 303.85h1.54M495.70 303.85h1.54M475.18 302.15h1.54M477.46 302.15h2.68M483.16 302.15h6.10M491.14 302.15h2.68M480.88 300.45h3.82M478.60 298.75h1.54M482.02 298.75h2.68M482.02 297.05h1.54"/><path stroke="#0000e7" d="M447.82 344.65h1.54M503.68 344.65h2.68M448.96 342.95h1.54M503.68 342.95h2.68M507.10 342.95h1.54M503.68 341.25h3.82M450.10 339.55h1.54M501.40 339.55h2.68M451.24 337.85h1.54M499.12 337.85h4.96M497.98 336.15h3.82M497.98 334.45h3.82M496.84 332.75h3.82M495.70 331.05h3.82M501.40 331.05h1.54M455.80 329.35h1.54M495.70 329.35h2.68M456.94 327.65h1.54M493.42 327.65h1.54M495.70 327.65h1.54M493.42 325.95h2.68M496.84 325.95h1.54M492.28 324.25h3.82M490.00 322.55h1.54M492.28 322.55h2.68M493.42 320.85h1.54M461.50 319.15h1.54M488.86 319.15h6.10M488.86 317.45h2.68M486.58 315.75h3.82M466.06 314.05h1.54M485.44 314.05h4.96M467.20 312.35h1.54M483.16 312.35h1.54M485.44 312.35h1.54M487.72 312.35h1.54M468.34 310.65h1.54M485.44 310.65h2.68M469.48 308.95h2.68M483.16 308.95h3.82M471.76 307.25h1.54M480.88 307.25h6.10M472.90 305.55h1.54M477.46 305.55h3.82M482.02 305.55h2.68M475.18 303.85h8.38M485.44 303.85h2.68M476.32 302.15h1.54M479.74 302.15h3.82M478.60 300.45h2.68M480.88 298.75h1.54"/><path stroke="#0000f2" d="M500.26 344.65h3.82M500.26 342.95h3.82M450.10 341.25h1.54M499.12 341.25h4.96M499.12 339.55h2.68M496.84 337.85h2.68M452.38 336.15h1.54M496.84 336.15h1.54M453.52 334.45h1.54M494.56 334.45h3.82M495.70 332.75h1.54M493.42 331.05h2.68M492.28 329.35h3.82M492.28 327.65h1.54M494.56 327.65h1.54M458.08 325.95h1.54M488.86 325.95h1.54M491.14 325.95h2.68M459.22 324.25h1.54M490.00 324.25h2.68M460.36 322.55h1.54M491.14 322.55h1.54M461.50 320.85h1.54M487.72 320.85h4.96M462.64 319.15h1.54M484.30 319.15h2.68M487.72 319.15h1.54M463.78 317.45h1.54M484.30 317.45h4.96M464.92 315.75h1.54M483.16 315.75h1.54M485.44 315.75h1.54M482.02 314.05h3.82M468.34 312.35h1.54M479.74 312.35h1.54M482.02 312.35h1.54M484.30 312.35h1.54M469.48 310.65h1.54M478.60 310.65h1.54M480.88 310.65h3.82M471.76 308.95h2.68M477.46 308.95h6.10M472.90 307.25h1.54M475.18 307.25h6.10M474.04 305.55h3.82"/><path stroke="#0000fc" d="M499.12 342.95h1.54M497.98 341.25h1.54M451.24 339.55h1.54M496.84 339.55h2.68M495.70 337.85h1.54M453.52 336.15h1.54M494.56 336.15h2.68M493.42 334.45h1.54M454.66 332.75h1.54M493.42 332.75h2.68M455.80 331.05h1.54M492.28 331.05h1.54M456.94 329.35h1.54M490.00 329.35h2.68M490.00 327.65h2.68M459.22 325.95h1.54M490.00 325.95h1.54M488.86 324.25h1.54M485.44 322.55h4.96M486.58 320.85h1.54M486.58 319.15h1.54M483.16 317.45h1.54M466.06 315.75h1.54M482.02 315.75h1.54M467.20 314.05h1.54M479.74 314.05h2.68M474.04 312.35h1.54M478.60 312.35h1.54M480.88 312.35h1.54M470.62 310.65h8.38M479.74 310.65h1.54M474.04 308.95h3.82M474.04 307.25h1.54"/><path stroke="#0007ff" d="M448.96 344.65h1.54M497.98 344.65h2.68M450.10 342.95h1.54M496.84 342.95h2.68M494.56 341.25h3.82M495.70 339.55h1.54M452.38 337.85h1.54M493.42 337.85h2.68M493.42 336.15h1.54M492.28 334.45h1.54M492.28 332.75h1.54M456.94 331.05h1.54M491.14 331.05h1.54M458.08 327.65h1.54M487.72 327.65h1.54M486.58 325.95h2.68M460.36 324.25h1.54M485.44 324.25h3.82M461.50 322.55h2.68M462.64 320.85h1.54M482.02 320.85h1.54M484.30 320.85h2.68M463.78 319.15h1.54M480.88 319.15h2.68M464.92 317.45h1.54M480.88 317.45h2.68M468.34 315.75h1.54M477.46 315.75h1.54M479.74 315.75h2.68M484.30 315.75h1.54M468.34 314.05h1.54M470.62 314.05h1.54M474.04 314.05h2.68M477.46 314.05h2.68M469.48 312.35h2.68M475.18 312.35h3.82"/><path stroke="#0012ff" d="M496.84 344.65h1.54M495.70 342.95h1.54M451.24 341.25h1.54M452.38 339.55h1.54M493.42 339.55h2.68M492.28 337.85h1.54M491.14 336.15h2.68M454.66 334.45h1.54M490.00 334.45h2.68M455.80 332.75h1.54M488.86 332.75h3.82M488.86 331.05h2.68M458.08 329.35h1.54M487.72 329.35h2.68M459.22 327.65h1.54M486.58 327.65h1.54M488.86 327.65h1.54M460.36 325.95h1.54M484.30 324.25h1.54M483.16 322.55h2.68M463.78 320.85h1.54M483.16 320.85h1.54M464.92 319.15h1.54M478.60 319.15h1.54M483.16 319.15h1.54M467.20 317.45h2.68M477.46 317.45h3.82M467.20 315.75h1.54M469.48 315.75h6.10M476.32 315.75h1.54M478.60 315.75h1.54M469.48 314.05h1.54M471.76 314.05h2.68M476.32 314.05h1.54M471.76 312.35h2.68"/><path stroke="#001cff" d="M450.10 344.65h1.54M494.56 344.65h2.68M494.56 342.95h1.54M452.38 341.25h1.54M493.42 341.25h1.54M492.28 339.55h1.54M453.52 337.85h1.54M491.14 337.85h1.54M454.66 336.15h1.54M490.00 336.15h1.54M488.86 334.45h1.54M458.08 331.05h1.54M487.72 331.05h1.54M459.22 329.35h1.54M486.58 329.35h1.54M460.36 327.65h2.68M484.30 327.65h2.68M461.50 325.95h1.54M483.16 325.95h3.82M461.50 324.25h2.68M479.74 324.25h1.54M482.02 324.25h2.68M482.02 322.55h1.54M464.92 320.85h2.68M468.34 320.85h1.54M480.88 320.85h1.54M466.06 319.15h3.82M470.62 319.15h1.54M472.90 319.15h1.54M475.18 319.15h2.68M479.74 319.15h1.54M466.06 317.45h1.54M470.62 317.45h7.24M475.18 315.75h1.54"/><path stroke="#0027ff" d="M451.24 344.65h1.54M451.24 342.95h1.54M493.42 342.95h1.54M492.28 341.25h1.54M453.52 339.55h1.54M454.66 337.85h1.54M490.00 337.85h1.54M455.80 336.15h1.54M488.86 336.15h1.54M455.80 334.45h2.68M456.94 332.75h1.54M486.58 332.75h2.68M485.44 331.05h2.68M485.44 329.35h1.54M462.64 325.95h1.54M482.02 325.95h1.54M463.78 322.55h2.68M467.20 322.55h2.68M477.46 322.55h1.54M479.74 322.55h2.68M467.20 320.85h1.54M475.18 320.85h1.54M478.60 320.85h2.68M469.48 319.15h1.54M474.04 319.15h1.54M477.46 319.15h1.54M469.48 317.45h1.54"/><path stroke="#0031ff" d="M492.28 342.95h1.54M491.14 341.25h1.54M491.14 339.55h1.54M486.58 334.45h2.68M458.08 332.75h1.54M485.44 332.75h1.54M459.22 331.05h2.68M460.36 329.35h1.54M484.30 329.35h1.54M483.16 327.65h1.54M463.78 325.95h1.54M480.88 325.95h1.54M463.78 324.25h2.68M469.48 324.25h1.54M478.60 324.25h1.54M480.88 324.25h1.54M466.06 322.55h1.54M475.18 322.55h2.68M478.60 322.55h1.54M469.48 320.85h4.96M476.32 320.85h2.68M471.76 319.15h1.54"/><path stroke="#003bff" d="M452.38 344.65h1.54M493.42 344.65h1.54M452.38 342.95h1.54M491.14 342.95h1.54M453.52 341.25h1.54M454.66 339.55h1.54M490.00 339.55h1.54M455.80 337.85h1.54M456.94 336.15h1.54M487.72 336.15h1.54M458.08 334.45h2.68M459.22 332.75h1.54M461.50 329.35h1.54M483.16 329.35h1.54M462.64 327.65h1.54M464.92 327.65h1.54M480.88 327.65h2.68M464.92 325.95h2.68M478.60 325.95h1.54M466.06 324.25h1.54M475.18 324.25h3.82M469.48 322.55h1.54M471.76 322.55h3.82M474.04 320.85h1.54"/><path stroke="#0046ff" d="M453.52 344.65h1.54M492.28 344.65h1.54M453.52 342.95h1.54M454.66 341.25h1.54M490.00 341.25h1.54M455.80 339.55h2.68M488.86 339.55h1.54M456.94 337.85h1.54M487.72 337.85h2.68M485.44 336.15h2.68M485.44 334.45h1.54M460.36 332.75h1.54M484.30 332.75h1.54M461.50 331.05h1.54M483.16 331.05h2.68M462.64 329.35h2.68M482.02 329.35h1.54M463.78 327.65h1.54M479.74 327.65h1.54M468.34 325.95h1.54M476.32 325.95h2.68M479.74 325.95h1.54M468.34 324.25h1.54M470.62 324.25h2.68M474.04 324.25h1.54M470.62 322.55h1.54"/><path stroke="#0050ff" d="M491.14 344.65h1.54M455.80 341.25h1.54M488.86 341.25h1.54M487.72 339.55h1.54M458.08 337.85h1.54M486.58 337.85h1.54M458.08 336.15h1.54M460.36 334.45h1.54M461.50 332.75h1.54M462.64 331.05h2.68M482.02 331.05h1.54M480.88 329.35h1.54M477.46 327.65h2.68M467.20 325.95h1.54M469.48 325.95h1.54M471.76 325.95h1.54M475.18 325.95h1.54M467.20 324.25h1.54M472.90 324.25h1.54"/><path stroke="#005bff" d="M454.66 342.95h2.68M490.00 342.95h1.54M459.22 337.85h1.54M459.22 336.15h2.68M461.50 334.45h1.54M484.30 334.45h1.54M462.64 332.75h1.54M483.16 332.75h1.54M480.88 331.05h1.54M464.92 329.35h1.54M478.60 329.35h1.54M466.06 327.65h3.82M474.04 327.65h1.54M470.62 325.95h1.54M474.04 325.95h1.54"/><path stroke="#0065ff" d="M454.66 344.65h1.54M490.00 344.65h1.54M488.86 342.95h1.54M487.72 341.25h1.54M486.58 339.55h1.54M485.44 337.85h1.54M484.30 336.15h1.54M462.64 334.45h1.54M483.16 334.45h1.54M480.88 332.75h2.68M464.92 331.05h1.54M466.06 329.35h1.54M476.32 329.35h1.54M479.74 329.35h1.54M469.48 327.65h2.68M476.32 327.65h1.54M472.90 325.95h1.54"/><path stroke="#0070ff" d="M456.94 342.95h1.54M456.94 341.25h1.54M486.58 341.25h1.54M458.08 339.55h2.68M460.36 337.85h1.54M484.30 337.85h1.54M461.50 336.15h1.54M483.16 336.15h1.54M463.78 334.45h1.54M463.78 332.75h2.68M479.74 331.05h1.54M467.20 329.35h1.54M469.48 329.35h1.54M477.46 329.35h1.54M472.90 327.65h1.54"/><path stroke="#007aff" d="M456.94 344.65h1.54M458.08 341.25h1.54M485.44 341.25h1.54M480.88 334.45h2.68M466.06 332.75h1.54M479.74 332.75h1.54M466.06 331.05h2.68M478.60 331.05h1.54M468.34 329.35h1.54M470.62 329.35h3.82M471.76 327.65h1.54M475.18 327.65h1.54"/><path stroke="#0084ff" d="M455.80 344.65h1.54M487.72 344.65h2.68M487.72 342.95h1.54M485.44 339.55h1.54M461.50 337.85h1.54M462.64 336.15h2.68M482.02 336.15h1.54M469.48 332.75h1.54M477.46 332.75h2.68M468.34 331.05h1.54M474.04 331.05h2.68M477.46 331.05h1.54M475.18 329.35h1.54"/><path stroke="#008fff" d="M458.08 342.95h1.54M459.22 341.25h1.54M462.64 337.85h1.54M482.02 337.85h2.68M471.76 332.75h1.54M469.48 331.05h1.54M471.76 331.05h2.68M476.32 331.05h1.54M474.04 329.35h1.54"/><path stroke="#0099ff" d="M486.58 344.65h1.54M459.22 342.95h1.54M484.30 341.25h1.54M460.36 339.55h1.54M484.30 339.55h1.54M464.92 336.15h1.54M480.88 336.15h1.54M464.92 334.45h2.68M478.60 334.45h1.54M467.20 332.75h2.68M476.32 332.75h1.54M470.62 331.05h1.54"/><path stroke="#00a4ff" d="M458.08 344.65h1.54M485.44 342.95h2.68M460.36 341.25h1.54M461.50 339.55h2.68M478.60 336.15h1.54M479.74 334.45h1.54M470.62 332.75h1.54"/><path stroke="#00aeff" d="M483.16 339.55h1.54M463.78 337.85h2.68M479.74 336.15h1.54M467.20 334.45h2.68M475.18 334.45h1.54M474.04 332.75h2.68"/><path stroke="#00b8ff" d="M459.22 344.65h1.54M460.36 342.95h2.68M484.30 342.95h1.54M461.50 341.25h1.54M483.16 341.25h1.54M463.78 339.55h1.54M480.88 337.85h1.54M466.06 336.15h1.54M468.34 336.15h1.54M469.48 334.45h1.54M472.90 334.45h1.54M476.32 334.45h1.54"/><path stroke="#00c3ff" d="M485.44 344.65h1.54M480.88 339.55h2.68M467.20 336.15h1.54M477.46 334.45h1.54M472.90 332.75h1.54"/><path stroke="#00cdff" d="M460.36 344.65h1.54M475.18 336.15h1.54M470.62 334.45h2.68M474.04 334.45h1.54"/><path stroke="#00d8ff" d="M483.16 342.95h1.54M462.64 341.25h2.68M480.88 341.25h2.68M464.92 339.55h1.54M478.60 337.85h2.68M469.48 336.15h1.54M472.90 336.15h1.54M476.32 336.15h2.68"/><path stroke="#00e2ff" d="M484.30 344.65h1.54M462.64 342.95h1.54M466.06 337.85h2.68M477.46 337.85h1.54M470.62 336.15h2.68"/><path stroke="#00edff" d="M466.06 339.55h1.54M476.32 339.55h1.54M478.60 339.55h2.68M469.48 337.85h2.68M472.90 337.85h1.54M475.18 337.85h2.68M474.04 336.15h1.54"/><path stroke="#00f7ff" d="M461.50 344.65h1.54M483.16 344.65h1.54M467.20 339.55h1.54M477.46 339.55h1.54"/><path stroke="#02fffd" d="M463.78 342.95h1.54M474.04 337.85h1.54"/><path stroke="#0dfff2" d="M464.92 342.95h1.54M480.88 342.95h2.68M464.92 341.25h1.54M479.74 341.25h1.54M469.48 339.55h1.54M472.90 339.55h1.54M475.18 339.55h1.54M468.34 337.85h1.54M471.76 337.85h1.54"/><path stroke="#17ffe8" d="M462.64 344.65h2.68M482.02 344.65h1.54M468.34 339.55h1.54"/><path stroke="#22ffdd" d="M480.88 344.65h1.54M479.74 342.95h1.54M477.46 341.25h1.54M470.62 339.55h1.54"/><path stroke="#2cffd3" d="M466.06 341.25h1.54M468.34 341.25h2.68M478.60 341.25h1.54M471.76 339.55h1.54M474.04 339.55h1.54"/><path stroke="#36ffc9" d="M464.92 344.65h1.54M478.60 342.95h1.54M467.20 341.25h1.54"/><path stroke="#41ffbe" d="M466.06 342.95h2.68M475.18 341.25h1.54"/><path stroke="#4bffb4" d="M477.46 342.95h1.54M470.62 341.25h1.54M474.04 341.25h1.54"/><path stroke="#56ffa9" d="M471.76 341.25h1.54M476.32 341.25h1.54"/><path stroke="#60ff9f" d="M479.74 344.65h1.54M468.34 342.95h1.54M475.18 342.95h2.68M472.90 341.25h1.54"/><path stroke="#6aff95" d="M469.48 342.95h1.54"/><path stroke="#75ff8a" d="M477.46 344.65h1.54M470.62 342.95h1.54"/><path stroke="#7fff80" d="M466.06 344.65h1.54M478.60 344.65h1.54M472.90 342.95h2.68"/><path stroke="#8aff75" d="M467.20 344.65h1.54"/><path stroke="#9fff60" d="M468.34 344.65h2.68M474.04 344.65h1.54M471.76 342.95h1.54"/><path stroke="#a9ff56" d="M470.62 344.65h1.54M475.18 344.65h2.68"/><path stroke="#b3ff4c" d="M472.90 344.65h1.54"/><path stroke="#c8ff37" d="M471.76 344.65h1.54"/></g><path d="M493.5 343.7 L494.3 342.0 L495.2 339.2 L496.6 332.0 L497.6 324.8 L499.0 315.0 L500.1 306.9 L500.9 299.0 L501.5 292.6" fill="none" stroke="#fff" stroke-width="1.25" stroke-linejoin="round" stroke-linecap="round"/><path d="M404.70 345.50h1.60M541.50 345.50h-1.60M404.70 338.70h1.60M541.50 338.70h-1.60M404.70 331.90h1.60M541.50 331.90h-1.60M404.70 325.10h3.20M541.50 325.10h-3.20M404.70 318.30h1.60M541.50 318.30h-1.60M404.70 311.50h1.60M541.50 311.50h-1.60M404.70 304.70h1.60M541.50 304.70h-1.60M404.70 297.90h3.20M541.50 297.90h-3.20M404.70 291.10h1.60M541.50 291.10h-1.60M404.70 284.30h1.60M541.50 284.30h-1.60M404.70 277.50h1.60M541.50 277.50h-1.60M404.70 270.70h3.20M541.50 270.70h-3.20M404.70 263.90h1.60M541.50 263.90h-1.60M404.70 257.10h1.60M541.50 257.10h-1.60M404.70 250.30h1.60M541.50 250.30h-1.60M404.70 243.50h3.20M541.50 243.50h-3.20M404.70 236.70h1.60M541.50 236.70h-1.60M404.70 229.90h1.60M541.50 229.90h-1.60M404.70 223.10h1.60M541.50 223.10h-1.60M411.56 352.30v-1.60M411.56 216.30v1.60M415.58 352.30v-1.60M415.58 216.30v1.60M418.43 352.30v-1.60M418.43 216.30v1.60M420.64 352.30v-1.60M420.64 216.30v1.60M422.44 352.30v-1.60M422.44 216.30v1.60M423.97 352.30v-1.60M423.97 216.30v1.60M425.29 352.30v-1.60M425.29 216.30v1.60M426.46 352.30v-1.60M426.46 216.30v1.60M427.50 352.30v-3.20M427.50 216.30v3.20M434.36 352.30v-1.60M434.36 216.30v1.60M438.38 352.30v-1.60M438.38 216.30v1.60M441.23 352.30v-1.60M441.23 216.30v1.60M443.44 352.30v-1.60M443.44 216.30v1.60M445.24 352.30v-1.60M445.24 216.30v1.60M446.77 352.30v-1.60M446.77 216.30v1.60M448.09 352.30v-1.60M448.09 216.30v1.60M449.26 352.30v-1.60M449.26 216.30v1.60M450.30 352.30v-3.20M450.30 216.30v3.20M457.16 352.30v-1.60M457.16 216.30v1.60M461.18 352.30v-1.60M461.18 216.30v1.60M464.03 352.30v-1.60M464.03 216.30v1.60M466.24 352.30v-1.60M466.24 216.30v1.60M468.04 352.30v-1.60M468.04 216.30v1.60M469.57 352.30v-1.60M469.57 216.30v1.60M470.89 352.30v-1.60M470.89 216.30v1.60M472.06 352.30v-1.60M472.06 216.30v1.60M473.10 352.30v-3.20M473.10 216.30v3.20M479.96 352.30v-1.60M479.96 216.30v1.60M483.98 352.30v-1.60M483.98 216.30v1.60M486.83 352.30v-1.60M486.83 216.30v1.60M489.04 352.30v-1.60M489.04 216.30v1.60M490.84 352.30v-1.60M490.84 216.30v1.60M492.37 352.30v-1.60M492.37 216.30v1.60M493.69 352.30v-1.60M493.69 216.30v1.60M494.86 352.30v-1.60M494.86 216.30v1.60M495.90 352.30v-3.20M495.90 216.30v3.20M502.76 352.30v-1.60M502.76 216.30v1.60M506.78 352.30v-1.60M506.78 216.30v1.60M509.63 352.30v-1.60M509.63 216.30v1.60M511.84 352.30v-1.60M511.84 216.30v1.60M513.64 352.30v-1.60M513.64 216.30v1.60M515.17 352.30v-1.60M515.17 216.30v1.60M516.49 352.30v-1.60M516.49 216.30v1.60M517.66 352.30v-1.60M517.66 216.30v1.60M518.70 352.30v-3.20M518.70 216.30v3.20M525.56 352.30v-1.60M525.56 216.30v1.60M529.58 352.30v-1.60M529.58 216.30v1.60M532.43 352.30v-1.60M532.43 216.30v1.60M534.64 352.30v-1.60M534.64 216.30v1.60M536.44 352.30v-1.60M536.44 216.30v1.60M537.97 352.30v-1.60M537.97 216.30v1.60M539.29 352.30v-1.60M539.29 216.30v1.60M540.46 352.30v-1.60M540.46 216.30v1.60" stroke="#333" stroke-width="0.7" fill="none"/><rect x="404.70" y="216.30" width="136.80" height="136.00" fill="none" stroke="#333" stroke-width="0.75"/><text x="472.80" y="209.40" font-size="11.7" text-anchor="middle">Estimated via DFR</text><text x="401.80" y="352.80" font-size="9.3" text-anchor="end">0</text><text x="401.80" y="329.40" font-size="9.3" text-anchor="end">2</text><text x="401.80" y="302.20" font-size="9.3" text-anchor="end">4</text><text x="401.80" y="275.00" font-size="9.3" text-anchor="end">6</text><text x="401.80" y="247.80" font-size="9.3" text-anchor="end">8</text><text x="401.80" y="223.50" font-size="9.3" text-anchor="end">10</text><text x="405.20" y="369.60" font-size="9.3" text-anchor="middle">10<tspan font-size="6.8" dy="-4.5">1</tspan></text><text x="428.00" y="369.60" font-size="9.3" text-anchor="middle">10<tspan font-size="6.8" dy="-4.5">2</tspan></text><text x="450.80" y="369.60" font-size="9.3" text-anchor="middle">10<tspan font-size="6.8" dy="-4.5">3</tspan></text><text x="473.60" y="369.60" font-size="9.3" text-anchor="middle">10<tspan font-size="6.8" dy="-4.5">4</tspan></text><text x="496.40" y="369.60" font-size="9.3" text-anchor="middle">10<tspan font-size="6.8" dy="-4.5">5</tspan></text><text x="519.20" y="369.60" font-size="9.3" text-anchor="middle">10<tspan font-size="6.8" dy="-4.5">6</tspan></text><text x="542.00" y="369.60" font-size="9.3" text-anchor="middle">10<tspan font-size="6.8" dy="-4.5">7</tspan></text><text x="473.10" y="384.20" text-anchor="middle" xml:space="preserve"><tspan font-size="9.3" dy="0.0">Estimated N</tspan><tspan font-size="5.8" dy="2.0">W</tspan><tspan font-size="9.3" dy="-2.0">, mm</tspan><tspan font-size="5.0" dy="-5.0">-1</tspan><tspan font-size="9.3" dy="5.0">m</tspan><tspan font-size="5.0" dy="-5.0">-3</tspan></text><text transform="translate(381.50 284.00) rotate(-90)" font-size="9.45" text-anchor="middle">Height above 0<tspan font-size="6.5" dy="-4.2">0</tspan><tspan dy="4.2">C, km</tspan></text><text x="450.20" y="231.20" font-size="7.55" stroke-width="0.12">nPoint=164675</text><text x="450.20" y="239.50" font-size="7.55" stroke-width="0.12" xml:space="preserve">mean= 1.0e+05</text></g>
</svg>
</body></html>
